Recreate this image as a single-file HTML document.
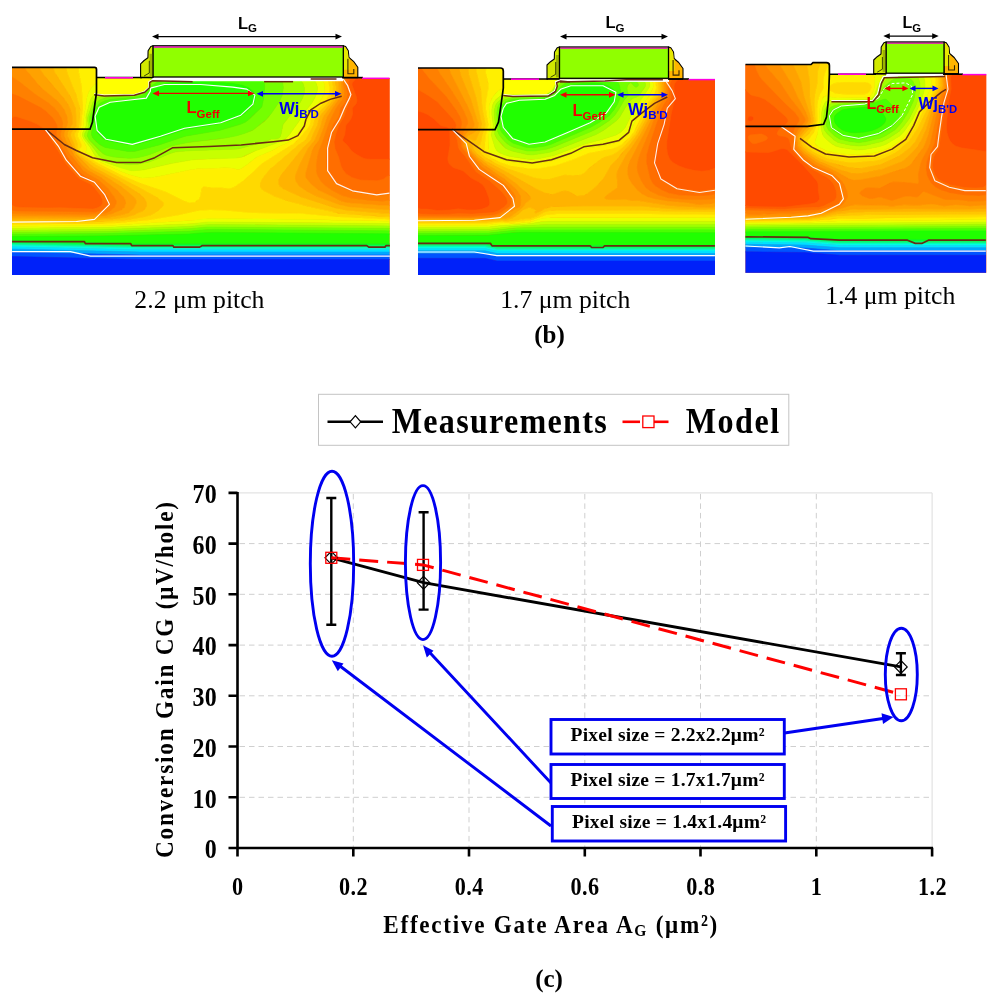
<!DOCTYPE html>
<html><head><meta charset="utf-8"><title>Figure</title>
<style>
html,body{margin:0;padding:0;background:#fff}
svg{display:block}
.sb{font-family:"Liberation Serif",serif;font-weight:bold;fill:#000}
.sr{font-family:"Liberation Serif",serif;fill:#000}
.ab{font-family:"Liberation Sans",sans-serif;font-weight:bold}
</style></head><body>
<svg width="995" height="1000" viewBox="0 0 995 1000">
<rect width="995" height="1000" fill="#fff"/>
<defs><clipPath id="c1"><path d="M12 67H96.5V78H389.5V275H12Z"/></clipPath><clipPath id="c2"><path d="M418 68H503.3V79.5H715V275H418Z"/></clipPath><clipPath id="c3"><path d="M745.5 64.5H812V62.6H829.4V74.5H986.3V272.8H745.5Z"/></clipPath></defs>
<g clip-path="url(#c1)">
<rect x="12" y="67" width="379" height="208" fill="#ff4a00"/>
<path fill="#ff4a00" stroke="#ff4a00" stroke-width="0.6" d="M369 67.7 L369.6 67 L390 67 L390 159.3 L371 159.3 L366 158.9 L363 158 L357 154.8 L352 151.3 L347 144.8 L342.9 141 L342.8 139 L344.7 135 L346 125 L349.6 121 L351.4 118 L352.6 114 L352.3 108 L356 104.1 L357 101 L356.4 97 L352 85 L352.2 83 L356 78.5Z"/>
<path fill="#ff5c00" stroke="#ff5c00" stroke-width="0.6" d="M357 67.8 L357.4 67 L369.6 67 L356 78.5 L352.2 83 L352 85 L356.4 97 L357 101 L356 104.1 L352.3 108 L352.6 114 L351.4 118 L349.6 121 L346 125 L344.7 135 L342.6 140 L343 141.3 L347 144.8 L352 151.3 L357 154.8 L363 158 L366 158.9 L371 159.3 L390 159.3 L390 175.3 L387 176.4 L383 179.4 L380 180.3 L375 180.7 L360 180 L353 178 L348 175.2 L344.5 172 L341.9 168 L340.3 164 L338.6 157 L336 151.6 L334.6 147 L334.2 141 L337.8 128 L344.4 116 L346.4 109 L350.6 99 L350.8 94 L348.3 85 L348.5 82 L351 76.7ZM14 116.6 L17 116.6 L33 122.1 L42 127.1 L46 130.3 L63.3 160 L73.6 173 L79 178.3 L92 185.1 L98.2 192 L101 196.4 L102.5 200 L102.6 203 L101.7 205 L97 208 L94 209 L90 209.2 L60 207.7 L47 208 L19 207.4 L15 206.8 L12 205.1 L12 118.2Z"/>
<path fill="#ff6e00" stroke="#ff6e00" stroke-width="0.6" d="M351 67 L357.4 67 L351 76.7 L348.5 82 L348.3 85 L350.8 94 L350.6 99 L346.4 109 L344.4 116 L338.6 126 L335.9 134 L334.1 142 L335 148.6 L338.6 157 L341 166 L343 170 L346.4 174 L352 177.5 L360.1 180 L377 180.7 L383 179.4 L387 176.4 L390 175.3 L390 193.8 L387 194.7 L380 195.7 L374 195.6 L357.2 193 L349.8 191 L341 187 L335.9 184 L330.8 178 L326.9 171 L326.1 166 L326 153 L327.5 140 L333.2 124 L337.1 119 L338.7 116 L340.3 108 L344 103.9 L346.4 99 L347.2 93 L345.5 85 L345.6 82 L347.5 75ZM13 93.7 L42 108 L47.9 113 L53.6 119 L56.3 123 L57.4 126 L56.5 134 L57.6 139 L68.6 158 L80 172.2 L84 175.3 L96 182.2 L102.5 189 L106.9 195 L108.7 199 L109.3 203 L108.3 206 L106 208.6 L100.5 211 L92 212.4 L19 211.5 L12 210.8 L12 205.1 L15 206.8 L19 207.4 L47 208 L60 207.7 L93 209.1 L97 208 L100.7 206 L102.3 204 L102.8 202 L102.2 199 L100.8 196 L94 187 L90.3 184 L81 179.6 L78 177.6 L66.2 164 L53.3 143 L48 133.2 L45 129.3 L37 124.1 L30 121 L16 116.4 L14 116.6 L12 118.2 L12 93.4Z"/>
<path fill="#ff8000" stroke="#ff8000" stroke-width="0.6" d="M346 67 L350.7 67 L347 76.5 L345.6 82 L345.5 85 L347.2 93 L346.9 97 L344.6 103 L340.3 108 L338.7 116 L337.1 119 L333.2 124 L327.8 139 L326 153 L326.1 166 L326.9 171 L330.1 177 L334.8 183 L338 185.4 L345.2 189 L355 192.6 L374 195.6 L382 195.5 L390 193.8 L390 200.4 L384 201.1 L374 200.8 L353 198.6 L345 196.7 L334 191.5 L325.6 186 L320.6 181 L317 174.8 L316 170 L316.1 165 L317.3 156 L318.9 150 L322.2 142 L329.1 122 L336 108 L341.4 101 L343.8 96 L344.2 92 L343.2 85 L343.1 81 L344.3 73 L345.6 67ZM12.9 77 L20 81.9 L35.1 94 L49 103.2 L54 107.6 L58 112 L61.2 117 L62.9 122 L63 126 L60.8 135 L61.4 138 L63.3 142 L71.5 156 L81.8 169 L86 172.5 L99 180 L107.6 188 L111.8 193 L115.5 199 L116.7 203 L115.5 206 L111.6 210 L105.7 213 L93 214.6 L12 213.9 L12 210.8 L19 211.5 L95 212.2 L101 210.9 L105.5 209 L108.3 206 L109.3 202 L108.7 199 L106.9 195 L99.9 186 L94.4 181 L85 175.9 L80.9 173 L76.3 168 L67.9 157 L57.6 139 L56.5 134 L57.4 127 L57.2 125 L55.1 121 L52 117.1 L45.8 111 L41 107.4 L18 95.8 L12 93.4 L12 76.6Z"/>
<path fill="#ff9000" stroke="#ff9000" stroke-width="0.6" d="M13 67 L24.3 67 L30.1 75 L40 86.4 L54 97.9 L62 106.3 L66 113 L67.8 120 L67.4 125 L64.4 133 L64.5 137 L72.6 153 L76 157.6 L86.2 169 L103.3 179 L113.8 187 L122.1 195 L125 199 L125.9 202 L125.3 206 L122.9 209 L117.2 212 L109 214.9 L98 216.4 L12 216.3 L12 213.9 L88 214.7 L100 214 L106 212.9 L110.2 211 L114.7 207 L116.7 203 L116.4 201 L114.4 197 L108.6 189 L99 180 L86.8 173 L83 170.2 L70.1 154 L63.3 142 L61.1 137 L60.8 134 L62.8 127 L63.1 123 L61.6 118 L58 112 L54 107.6 L48.7 103 L35.1 94 L20 81.9 L12 76.6 L12 67ZM342 67 L345.6 67 L343.1 81 L343.2 85 L344.2 92 L344 95 L342 100 L336 108 L329.1 122 L322.2 142 L318.9 150 L317.3 156 L316.1 165 L316.1 171 L317.1 175 L320.6 181 L325.6 186 L333 191 L343 195.9 L352 198.4 L372 200.7 L383 201.2 L390 200.4 L390 205.6 L384 205.7 L372 204.9 L350 203.2 L343.7 202 L330 196 L318.1 190 L314.1 187 L309 182 L305.6 177 L305.5 174 L306.3 170 L312.3 150 L318.3 141 L323 129 L327 117 L332.6 108 L338.5 100 L341.1 95 L341.6 91 L340.7 82 L340.7 75 L341.2 67Z"/>
<path fill="#ffa200" stroke="#ffa200" stroke-width="0.6" d="M25 67 L39.4 67 L41.2 71 L46.9 79 L65.2 100 L70 108 L72 114.7 L72.7 124 L72 126 L68.6 131 L67.4 135 L68.1 138 L74.5 152 L77 155.6 L89 167.5 L103 175 L116 183 L126.8 191 L134.8 198 L136.5 201 L136.3 204 L133.9 208 L130 212 L128 213.2 L123 214.7 L108 217.5 L100 218.3 L12 218.4 L12 216.3 L89 216.7 L105 215.7 L111.9 214 L121.4 210 L124.7 207 L126 203 L125.4 200 L123.7 197 L117.2 190 L101.9 178 L87 169.6 L83.2 166 L74.7 156 L66.3 141 L64.3 136 L64.4 133 L67.4 125 L67.9 122 L67 116 L64.5 110 L61 105 L56.3 100 L42 88.3 L39 85.3 L27 71 L24.3 67ZM337 67 L341.2 67 L340.6 79 L341.6 91 L341.3 94 L339.1 99 L332.6 108 L327 117 L323 129 L318.3 141 L313.9 147 L312 150.8 L305.8 172 L305.4 176 L306 178 L310.9 184 L318.1 190 L342 201.4 L346 202.6 L351 203.2 L382 205.6 L390 205.6 L390 209.7 L384 209.7 L350 207.2 L342 205.8 L318.5 197 L308 192.2 L299.1 186 L295.6 181 L295.1 178 L295.4 175 L299.4 165 L307.6 149 L314.7 140 L320.6 126 L322.3 119 L323.7 116 L335 101 L338.1 95 L339 90Z"/>
<path fill="#ffb300" stroke="#ffb300" stroke-width="0.6" d="M40 67 L53.1 67 L56.4 75 L69 94.2 L74 103.8 L76.1 110 L76.8 125 L76 127.3 L71.6 132 L70.7 135 L71.5 138 L74.3 144 L75.6 150 L77.1 153 L79 155.1 L92.4 166 L121.3 182 L141 195 L145.4 200 L146.9 204 L145.9 208 L142.9 211 L136.7 214 L129 216.7 L106 219.9 L12 220.4 L12 218.4 L91 218.5 L107 217.7 L123 214.7 L128.5 213 L133.9 208 L136.5 203 L136.5 201 L135 198.2 L128.1 192 L120.3 186 L111.2 180 L103 175 L89.7 168 L75.8 154 L67.5 136 L68.1 132 L72.7 124 L72.1 115 L70.4 109 L67.9 104 L64 98.5 L44.7 76 L40.6 70 L39.4 67ZM333 67 L336.9 67 L339 90 L338.5 94 L335 101 L323.7 116 L322.3 119 L320.6 126 L314.7 140 L307.6 149 L299.4 165 L295.4 175 L295.1 178 L295.6 181 L299.1 186 L307.7 192 L317 196.4 L340 205.1 L349 207.1 L384 209.7 L390 209.7 L390 213.4 L384 213.4 L349 210.8 L339 209.1 L300.8 197 L283.5 189 L280 186.4 L278.5 184 L278.4 180 L281 174.9 L302.7 148 L310.9 140 L312.6 135 L317.5 125 L318.6 119 L319.9 116 L331.6 102 L334 98 L335.8 93 L336.1 88 L335.7 83 L332.6 68 L332.5 67Z"/>
<path fill="#ffc600" stroke="#ffc600" stroke-width="0.6" d="M54 67 L65.9 67 L67.4 73 L74 88.4 L78 100.5 L80.2 110 L79.3 117 L79.2 125 L78.2 128 L74.8 133 L74.2 135 L77.7 144 L77.2 149 L78.1 152 L80 153.9 L97 165.5 L145.7 191 L161 200 L163.1 202 L163.6 203 L163.5 205 L161.2 208 L154.8 213 L149 215.9 L144 217 L127 219.7 L109 221.7 L12 222.4 L12 220.4 L96 220.3 L112 219.3 L127.7 217 L134.1 215 L142.9 211 L145.2 209 L146.7 206 L146.7 203 L145.4 200 L143.1 197 L139.8 194 L119.6 181 L93 166.4 L79 155.1 L77.1 153 L75.6 150 L74.3 144 L71.5 138 L70.7 135 L71.6 132 L76.6 126 L75.9 109 L73.6 103 L70 95.8 L55.3 73 L53.1 67ZM328 67 L332.5 67 L336.1 87 L336 92 L334.4 97 L332 101.5 L319.9 116 L318.6 119 L317.5 125 L312.6 135 L310.9 140 L302.7 148 L281 174.9 L278.4 180 L278.5 184 L280 186.4 L283.5 189 L300.8 197 L336 208.3 L347 210.6 L384 213.4 L390 213.4 L390 216.7 L346 214.1 L331.4 212 L300 204.4 L280 198.5 L272 195.4 L265.5 192 L262 189.4 L260.3 187 L260 184 L261.6 180 L265.1 175 L270.4 169 L299 144.5 L305.6 140 L313.4 125 L314.6 119 L315.9 116 L328 102.7 L330.7 99 L332.9 92 L333 86 L332 81 L327.9 68Z"/>
<path fill="#ffd900" stroke="#ffd900" stroke-width="0.6" d="M66 67 L79 67 L78.9 72 L81.7 86 L83 108 L81.8 117 L81.4 125 L77.7 134 L78.1 137 L81.7 145 L81.3 147 L79.3 149 L79 150 L80 151.7 L87 155.7 L98 163.2 L121 175 L140 182.9 L165 191.5 L185 201.5 L191 202.8 L196 201.5 L199 199.1 L200.3 196 L201.4 189 L202.7 187 L204 186.4 L213 187.7 L220 187.5 L228 188.5 L231 188.3 L235 186.6 L244 180.2 L262.8 163 L291 145.6 L296 141.7 L301.3 136 L309.3 126 L310.1 124 L311.1 118 L312.6 115 L319.6 108 L326 100 L327.8 97 L329.4 91 L329.2 85 L327.7 80 L322 67 L327.6 67 L332 81 L333 86 L332.9 92 L330.7 99 L328 102.7 L315.9 116 L314.6 119 L313.4 125 L305.6 140 L299 144.5 L270.4 169 L265.1 175 L261.6 180 L260 184 L260.3 187 L261.6 189 L264 191 L274 196.2 L286 200.5 L305 205.7 L339 213.4 L381 216.5 L390 216.7 L390 219.2 L339 217.1 L296 213.4 L251 213 L223 210.3 L211 210 L199 210.6 L178.9 215 L149.5 220 L110 223.5 L12 224.3 L12 222.4 L102 222 L126 219.9 L144 217 L150 215.5 L154.8 213 L158.9 210 L162.2 207 L163.5 205 L163.6 203 L163.1 202 L157.9 198 L143.8 190 L97 165.5 L80 153.9 L78.1 152 L77.2 149 L77.7 144 L74.2 135 L74.8 133 L78 128.4 L79 126 L80.2 109 L76 94 L67.4 73Z"/>
<path fill="#fff000" stroke="#fff000" stroke-width="0.6" d="M79 67.3 L139.6 67 L142.5 79 L140.7 83 L138 85.2 L133 86 L115.9 84 L101 80.4 L98 81.6 L92 86.9 L89 91.6 L87.1 97 L84 117 L83.7 125 L80.4 133 L80.2 135 L81.3 138 L85.1 144 L86.4 147 L86.7 149 L85.6 152 L91 156.4 L103 163.6 L121 171.6 L129 174.4 L142 177.9 L149 177.8 L158 176.6 L189.1 170 L197 168.8 L225 167.8 L232 168 L238 169.4 L241 168.7 L248 164.1 L257 156.8 L272 150.4 L280 145.9 L286 143.5 L292 140.2 L305 124.4 L308.4 115 L311 111.5 L317 105.7 L322.6 97 L324.6 92 L324.8 87 L324 83.2 L314.8 67 L322 67 L328.7 83 L329.4 87 L329.4 91 L328.2 96 L326 100 L319.6 108 L314.2 113 L312 116 L310.8 119 L310.1 124 L309 126.4 L300.5 137 L294 143.5 L262.8 163 L244 180.2 L235 186.6 L231 188.3 L228 188.5 L220 187.5 L213 187.7 L204 186.4 L202.7 187 L201.4 189 L200.3 196 L199 199.1 L195 202 L190 202.7 L184 201 L165 191.5 L140 182.9 L121 175 L98 163.2 L79.4 151 L79.3 149 L81.3 147 L81.7 145 L78.1 137 L77.7 134 L81.4 125 L81.8 117 L83 108 L81.7 86 L78.9 72ZM210 210 L223 210.3 L252 213 L299 213.6 L339 217.1 L390 219.2 L390 221.3 L309 219.5 L210 218.5 L192 220.6 L109 225.4 L12 226.2 L12 224.3 L102 223.8 L116.8 223 L149.5 220 L178.9 215 L199 210.6Z"/>
<path fill="#ecff00" stroke="#ecff00" stroke-width="0.6" d="M140 67 L150.5 67 L148 80 L146 84 L141 89 L138 90.4 L134 90.8 L111 91.3 L101 92.1 L96 93.6 L93 95.9 L90.9 99 L89.4 103 L85.9 117 L86.2 126 L83 132 L82.2 135 L83.2 138 L90 147 L94.6 155 L98 158.3 L102.2 161 L109 163.8 L131 170.6 L143 170 L171 163.6 L192 159.8 L240 157.6 L244 156.4 L256 150.6 L282 141.1 L285.3 139 L289.1 135 L299 121.2 L303.8 113 L311.9 103 L314.8 98 L316.8 93 L317.5 88 L316.6 84 L313.6 79 L304.9 67 L314.8 67 L323.9 83 L324.7 86 L324.8 91 L323 96.2 L317 105.7 L311 111.5 L308.4 115 L305.3 124 L292.2 140 L287 143 L280 145.9 L272 150.4 L256.7 157 L248 164.1 L241 168.7 L238 169.4 L232 168 L225 167.8 L197 168.8 L189.1 170 L158 176.6 L149 177.8 L142 177.9 L129 174.4 L121 171.6 L103 163.6 L91 156.4 L85.6 152 L86.7 149 L86.4 147 L85.1 144 L81.3 138 L80.2 135 L80.4 133 L83.7 125 L84 117 L87.1 97 L89 91.6 L92 86.9 L98 81.6 L101 80.4 L115.9 84 L133 86 L138 85.2 L140.7 83 L142.5 79 L140 69 L139.6 67ZM203 219 L211 218.4 L302 219.4 L390 221.3 L390 223.6 L210 221.9 L192 223.8 L109 227.3 L12 228.3 L12 226.2 L109 225.4 L192 220.6Z"/>
<path fill="#c7ff00" stroke="#c7ff00" stroke-width="0.6" d="M151 67 L158.1 67 L149.1 83 L145 88.3 L142 91 L139 92.4 L135.8 93 L112 94.2 L103 95.4 L96.7 98 L94.5 100 L92.6 103 L87.8 117 L87.7 121 L88.9 126 L84.9 133 L84.3 136 L86 139 L94.3 149 L98.5 155 L103 158.8 L109 161 L121 163.8 L130 164.7 L138 164.2 L148.8 162 L157.2 159 L170 153.4 L176 151.8 L189 150.7 L238 149 L266 141.5 L271 138.9 L275 138.9 L279 138 L280 137 L281 134.4 L283 124.5 L299.8 103 L302.6 98 L304.2 93 L304.4 88 L303.3 84 L290.9 67 L304.9 67 L316.1 83 L317.4 87 L317.3 91 L315.7 96 L311.9 103 L303.8 113 L299 121.2 L289.1 135 L285.3 139 L282 141.1 L255 151 L242 157.1 L236 158.1 L200 159.2 L191 160 L171 163.6 L144 169.8 L134 170.7 L130 170.5 L121 167.9 L102 160.9 L97.6 158 L94.6 155 L90 147 L84 139.3 L82.4 136 L82.6 133 L86.2 126 L86.1 116 L89.4 103 L91 98.8 L93 95.9 L95 94.1 L100 92.3 L111 91.3 L134 90.8 L140 89.6 L143 87.5 L147.1 82 L148.7 78 L150.5 67ZM208 221.9 L390 223.6 L390 226 L210 224.5 L190 226.4 L107 229.4 L12 230.3 L12 228.3 L109 227.3 L192 223.8Z"/>
<path fill="#9fff00" stroke="#9fff00" stroke-width="0.6" d="M158 67.1 L168 67 L158 76.3 L149 85.8 L145 91 L142 93.3 L136 95 L114 96.5 L106 97.6 L99 100.4 L95 104.4 L89.9 116 L89.5 121 L90.8 126 L87.8 133 L87.3 136 L89 139.5 L93 144 L99 150.2 L104 154.2 L109 156.1 L118 157.6 L130 158.3 L137 157.7 L150 154.4 L172 145.7 L188 142.4 L219 138.9 L229 137.3 L240 134.8 L252 130.7 L264 121.7 L269 116.5 L279.1 102 L282 96 L283.3 88 L282.3 80 L279.3 74 L273.1 67 L290.9 67 L303.3 84 L304.4 88 L304.2 93 L302.6 98 L299.8 103 L283 124.5 L281 134.4 L280 137 L279 138 L275 138.9 L271 138.9 L266 141.5 L238 149 L189 150.7 L176 151.8 L170 153.4 L157.2 159 L148.8 162 L138 164.2 L130 164.7 L121 163.8 L109 161 L103 158.8 L98.5 155 L94.3 149 L86 139 L84.3 136 L84.9 133 L88.9 126 L87.7 121 L87.8 117 L93.1 102 L97 97.8 L103 95.4 L112 94.2 L135 93.1 L141 91.6 L144 89.4 L148.4 84ZM203 224.9 L211 224.5 L387 225.9 L390 226 L390 228.4 L209 226.9 L189 228.8 L108 231.4 L12 232.2 L12 230.3 L14 230.2 L106 229.4 L190 226.4Z"/>
<path fill="#75ff00" stroke="#75ff00" stroke-width="0.6" d="M168 67 L197.6 67 L178 72.1 L164 77.8 L151 86.2 L146 93 L142 95.8 L135 97.3 L111 99.3 L105 100.8 L100 103.3 L96 107.6 L92 116 L91.7 118 L91.7 121 L92.8 126 L91.6 131 L91.5 135 L92.8 138 L96 141.5 L101 145.5 L106 147.6 L127 151.3 L134 151.4 L159 144.9 L185 136.2 L221 130 L239 124.8 L245 122.3 L250 118.5 L261.8 107 L264.1 96 L264.7 85 L264 83 L261.6 80 L254 74.1 L247 70.5 L236.3 67 L273.1 67 L279.3 74 L282.3 80 L283.3 87 L282.3 95 L279 102.1 L271.7 113 L266 119.8 L253.1 130 L245 133.3 L236 135.9 L225 138.1 L189 142.3 L172 145.7 L150 154.4 L143 156.5 L136 157.9 L128 158.2 L114 157.1 L106 155.2 L102 152.8 L89.4 140 L87.3 136 L87.8 133 L90.8 126 L89.5 121 L89.9 116 L94 106.1 L96 103 L100 99.8 L107 97.4 L114 96.5 L135 95.1 L139 94.5 L142 93.3 L145 91 L149 85.8 L158 76.3ZM207 227 L386 228.3 L390 228.4 L390 230.9 L208 229.5 L189 231.3 L109 233.5 L12 234.3 L12 232.2 L14 232.2 L108 231.4 L189 228.8Z"/>
<path fill="#4aff00" stroke="#4aff00" stroke-width="0.6" d="M194 67.9 L197.6 67 L236.3 67 L246 70.1 L253 73.5 L261.6 80 L264 83 L264.7 85 L264.1 96 L261.8 107 L248 120.2 L245 122.3 L241 124.1 L220 130.3 L185 136.2 L159 144.9 L135 151.3 L128 151.4 L105 147.4 L99 144.1 L92.8 138 L91.4 134 L92.8 126 L91.7 121 L91.8 117 L96 107.6 L100 103.3 L105 100.8 L111 99.3 L135 97.3 L142 95.8 L146 93 L151 86.2 L163 78.4 L177 72.4ZM183.5 82 L167 83.1 L157 86.1 L152 88.7 L147.2 96 L145 97.6 L142 98.8 L135 99.9 L113 102 L108 103.2 L103 105.3 L98.6 109 L95 117 L95 121 L96.4 130 L97.6 133 L103 138.5 L108 140.8 L129 144.8 L136 144.4 L159.1 138 L184 129.7 L218.5 124 L234.3 119 L241 116.1 L245 113.2 L252.4 106 L254.9 101 L255.4 96 L253.6 92 L249 88 L243 85.5 L233 83.5 L203 81.3ZM201 230 L214 229.4 L384 230.7 L390 230.9 L390 234 L209 232.4 L189 234 L110 235.8 L12 236.5 L12 234.3 L14 234.2 L103 233.6 L189 231.3Z"/>
<path fill="#20ff00" stroke="#20ff00" stroke-width="0.6" d="M184 82 L203 81.3 L233 83.5 L243 85.5 L249 88 L253.6 92 L255.4 96 L254.9 101 L252.4 106 L245 113.2 L241 116.1 L234.3 119 L218.5 124 L184 129.7 L159.1 138 L136 144.4 L129 144.8 L108 140.8 L103 138.5 L97.6 133 L96.4 130 L95 121 L95 117 L98.6 109 L103 105.3 L108 103.2 L113 102 L135 99.9 L142 98.8 L145 97.6 L147.2 96 L152 88.7 L157 86.1 L167 83.1ZM201 232.9 L214 232.4 L387 233.8 L390 234 L390 243.8 L140 243.8 L12 240.8 L12 236.5 L103 235.9 L189 234Z"/>
<path fill="#08ff23" stroke="#08ff23" stroke-width="0.6" d="M13 240.8 L140 243.8 L390 243.8 L390 245.4 L140 245.4 L12 242.4 L12 240.8Z"/>
<path fill="#02ff69" stroke="#02ff69" stroke-width="0.6" d="M13 242.5 L140 245.4 L390 245.4 L390 247 L140 247 L12 244 L12 242.4Z"/>
<path fill="#00ffa9" stroke="#00ffa9" stroke-width="0.6" d="M13 244 L140 247 L390 247 L390 248.2 L140 248.2 L12 245.2 L12 244Z"/>
<path fill="#00ffe2" stroke="#00ffe2" stroke-width="0.6" d="M13 245.3 L140 248.2 L390 248.2 L390 249.7 L140 249.7 L12 246.7 L12 245.2Z"/>
<path fill="#00e2ff" stroke="#00e2ff" stroke-width="0.6" d="M13 246.7 L140 249.7 L390 249.7 L390 252 L140 252 L12 249 L12 246.7Z"/>
<path fill="#00a7ff" stroke="#00a7ff" stroke-width="0.6" d="M13 249 L140 252 L390 252 L390 255 L140 255 L12 252 L12 249Z"/>
<path fill="#0054ff" stroke="#0054ff" stroke-width="0.6" d="M13 252 L140 255 L390 255 L390 259.5 L140 259.5 L12 256.5 L12 252Z"/>
<path fill="#0021f9" stroke="#0021f9" stroke-width="0.6" d="M13 256.5 L140 259.5 L390 259.5 L390 275 L12 275 L12 256.5Z"/>
</g>
<path d="M97 78.5H150V81L147.5 88L141 93.5L129 95.5H97Z" fill="#ffff00"/>
<rect x="152" y="78" width="191" height="3.2" fill="#fff"/>
<path d="M150.4 88.1 L164.4 84.5 L200.6 84.5 L232.8 87.1 L246.8 89.1 L254.9 95.1 L252.9 104.2 L240.8 115.2 L220.7 122.7 L184.5 128.3 L160.4 136.3 L132.3 144.4 L106.1 139.3 L97.1 130.3 L95.1 116.2 L99.1 107.2 L110.2 102.2 L132.3 99.7 L146.3 98.1 L150.4 91.1Z" fill="none" stroke="#fff" stroke-width="1.1" stroke-linejoin="round" />
<path d="M94.1 93.9 L104.1 95.1 L134.3 94.5 L144.3 91.5 L148.9 87.1 L148.9 81.7 L152.4 79.6" fill="none" stroke="#fff" stroke-width="1.2" stroke-linejoin="round" />
<path d="M94.1 94.7 L104.1 95.9 L134.3 95.3 L144.7 92.3 L149.7 87.5 L149.7 82.5 L152.8 80.7 L164.4 81.1 L192.6 81.7" fill="none" stroke="#6a2c12" stroke-width="1.5" stroke-linejoin="round" />
<path d="M264.1 81.7 L293.1 81.7" fill="none" stroke="#6a2c12" stroke-width="1.5" stroke-linejoin="round" />
<path d="M310.7 79 L336.5 79" fill="none" stroke="#6a2c12" stroke-width="1.5" stroke-linejoin="round" />
<path d="M46.2 129.6 L64.3 144.5 L76.4 150.5 L92.5 157.7 L116.6 162.6 L140.7 162.6 L154.8 157.7 L172.9 147.7 L209 146.5 L241.2 144.9 L273.4 141.7 L288.2 140.1 L297.9 135.6 L304.3 126 L305.9 119.5 L310.8 109.9 L320.4 103.5 L330.1 99.4 L341.7 96.2" fill="none" stroke="#6a2c12" stroke-width="1.5" stroke-linejoin="round" />
<path d="M45.2 129.4 L58.3 146.1 L66.3 160.2 L80.4 176.2 L94.5 182.3 L104.5 194.3 L109.5 204.4 L94.5 219.4 L76.4 221.5 L12.1 222.1" fill="none" stroke="#fff" stroke-width="1.1" stroke-linejoin="round" />
<path d="M342.9 78.5 L347.7 85.7 L350.9 94.5 L349.3 98.6 L344.5 108 L339.7 119.3 L331.6 132.2 L327.6 148.2 L327.6 170.7 L336.5 183.6 L352.5 190.8 L376.7 194.9 L389.5 193.2" fill="none" stroke="#fff4ec" stroke-width="1.2" stroke-linejoin="round" />
<path d="M12.1 241.6 L84.4 241.6 L85.4 243.6 L130.7 243.6 L131.7 245.6 L172.9 245.6 L173.9 247.2 L200 247.2" fill="none" stroke="#6a2c12" stroke-width="1.7" stroke-linejoin="round" />
<path d="M200 247.2 L202 245.6 L366.8 245.6 L368.8 247.2 L384.9 247.2 L385.9 245.6 L389.9 245.6" fill="none" stroke="#6a2c12" stroke-width="1.7" stroke-linejoin="round" />
<path d="M12.1 251.6 L70.4 251.6 L90.5 256.2 L200 256.2" fill="none" stroke="#fff" stroke-width="1.2" stroke-linejoin="round" />
<path d="M200 256.2 L389.9 256.2" fill="none" stroke="#fff" stroke-width="1.2" stroke-linejoin="round" />
<path d="M12 67.3H94.5Q96.5 67.3 96.5 69.5V93L95 103L92.5 122L90 129.2H12" fill="none" stroke="#000" stroke-width="1.7"/>
<path d="M96.5 77.6H142" stroke="#000" stroke-width="1.5" fill="none"/>
<path d="M105 77.8H133" stroke="#ff00e0" stroke-width="1.6" fill="none"/>
<path d="M342 77.6H363" stroke="#000" stroke-width="1.6" fill="none"/>
<path d="M362 78.3H389.5" stroke="#ff00e0" stroke-width="1.5" fill="none"/>
<path d="M153.1 45.8 l-2.3 0.7 l-2.7 4.3 l-0.2 7 l-3.8 2.7 l-3.5 3.3 V77.5 H153.1 Z" fill="#d2ea00" stroke="#000" stroke-width="1.1" stroke-linejoin="round"/>
<path d="M149.5 53.8 V76.0 H152.6 V53.8 Z" fill="#9cb400" stroke="none"/>
<path d="M149.3 60.8 V73.0 L144.1 76.0" fill="none" stroke="#3c4800" stroke-width="1"/>
<path d="M343.3 45.8 l2.3 0.7 l2.7 4.3 l0.6 6.5 l4.6 4 l4.3 6 V77.5 H343.3 Z" fill="#ffb400" stroke="#000" stroke-width="1.1" stroke-linejoin="round"/>
<path d="M343.9 46.8 l1.8 0.9 l2.2 3.8 l0.5 6 l1 1 V69.8 H343.9 Z" fill="#e6e800" stroke="none"/>
<path d="M347.9 58.8 V73.8 H353.8 V69.0" fill="none" stroke="#3a2800" stroke-width="1.1"/>
<path d="M140.1 77.6 H153.1 M343.3 77.6 H357.8" stroke="#000" stroke-width="1.5"/>
<rect x="153.1" y="45.8" width="190.2" height="31.2" fill="#90ff00" stroke="#000" stroke-width="1.3"/>
<path d="M153.9 47.0 H342.5" stroke="#e800d0" stroke-width="1.3"/>
<path d="M157.5 36.6 H336.5" stroke="#000" stroke-width="1.4"/><path d="M152.0 36.6 l6.5 -2.9 v5.8 Z M342.0 36.6 l-6.5 -2.9 v5.8 Z" fill="#000"/>
<path d="M158.0 93.4 H249.0" stroke="#f00000" stroke-width="1.4"/><path d="M152.5 93.4 l6.5 -2.9 v5.8 Z M254.5 93.4 l-6.5 -2.9 v5.8 Z" fill="#f00000"/>
<path d="M262.0 93.8 H336.0" stroke="#0000f0" stroke-width="1.4"/><path d="M256.5 93.8 l6.5 -2.9 v5.8 Z M341.5 93.8 l-6.5 -2.9 v5.8 Z" fill="#0000f0"/>
<text x="238.0" y="28.7" class="ab" font-size="16.5" fill="#000">L<tspan font-size="11.5" dy="3.6">G</tspan></text>
<text x="186.5" y="113.2" class="ab" font-size="16.5" fill="#f00000">L<tspan font-size="11.5" dy="4.3">Geff</tspan></text>
<text x="279.2" y="113.6" class="ab" font-size="16.5" fill="#0000f0">Wj<tspan font-size="11.5" dy="4.3">B'D</tspan></text>
<g clip-path="url(#c2)">
<rect x="418" y="68" width="298" height="207" fill="#ff4a00"/>
<path fill="#ff4a00" stroke="#ff4a00" stroke-width="0.6" d="M699 68.4 L715 68 L715 168.1 L709 170.4 L703 171.2 L696 170.8 L687.6 169 L680 166.3 L674 163.3 L671 160.8 L669 157.9 L667.6 154 L666.7 148 L666.9 142 L668.1 133 L671.4 113 L674.6 99 L674.7 94 L674 87 L674.4 84 L676.4 81 L680 78.3ZM419 111.3 L425 113.3 L430 116 L435 119.8 L441.5 126 L447 127 L449.7 129 L450 145 L447.8 158 L448.7 163 L452 166.8 L463 170.8 L471.1 178 L478.9 182 L482.7 185 L485.4 189 L489.3 199 L489.7 204 L488 206.5 L482 209.1 L473.2 210 L467 209.9 L458 208.8 L449 210.1 L436 210.3 L427 209.1 L421 209.1 L418 208.2 L418 111.1Z"/>
<path fill="#ff5c00" stroke="#ff5c00" stroke-width="0.6" d="M682 68 L699.5 68 L680 78.3 L676.4 81 L674.4 84 L674 87 L674.8 95 L674.5 100 L671.2 114 L666.9 141 L666.7 148 L667.6 154 L669.6 159 L673 162.6 L679 165.9 L686 168.5 L695 170.6 L702 171.2 L709 170.4 L715 168.1 L715 188.3 L711 189.7 L697 191 L680 188.5 L675.1 187 L664 181.5 L660.4 179 L657.9 175 L654.3 165 L653.9 158 L656.3 144 L661.8 126 L665.6 110 L671 98 L671.1 94 L669.9 86 L670.2 83 L674 76.9ZM419 89.8 L431 97.2 L438 102.4 L453.8 120 L456.4 125 L454.8 133 L457.3 140 L458.3 147 L459.6 150 L465 156.1 L476.2 172 L491.1 182 L501 190.9 L505 195.5 L507.1 199 L507.5 202 L507 204 L504.1 207 L498 211 L495.6 212 L480 213.8 L467 214.1 L458 213.6 L450 214.2 L435 214.4 L421 214.1 L418 213.5 L418 208.2 L421 209.1 L427 209.1 L437 210.4 L449 210.1 L458 208.8 L467 209.9 L476 209.9 L482 209.1 L487.3 207 L489.4 205 L489.8 203 L489 198 L486 190.3 L484.3 187 L482 184.3 L478.9 182 L471.1 178 L463 170.8 L453 167.4 L449.3 164 L448 161 L447.8 158 L450 145 L449.7 129 L447 127 L441 125.7 L434 118.9 L428 114.8 L423 112.5 L418 111.1 L418 89.4Z"/>
<path fill="#ff6e00" stroke="#ff6e00" stroke-width="0.6" d="M419 68 L420.8 68 L429.8 79 L445 94.8 L459.7 116 L461.4 120 L462.1 123 L461.9 126 L459.8 134 L461.1 141 L461.4 146 L462.4 148 L467 153 L479 168.1 L483 171.5 L502 184.8 L506.1 189 L510.4 195 L511.3 197 L511.6 200 L511.2 204 L510.2 206 L508 208 L499 213.5 L492 215.4 L480.6 216 L418 216.2 L418 213.5 L421 214.1 L435 214.4 L450 214.2 L458 213.6 L472 214.1 L493 212.6 L498 211 L504.1 207 L507 204 L507.5 202 L506.6 198 L502 192 L489.9 181 L476.2 172 L465 156.1 L459.6 150 L458.3 147 L457.3 140 L454.8 133 L456.4 125 L455.1 122 L453 118.9 L437.5 102 L429 95.9 L418 89.4 L418 68ZM675 68 L681.8 68 L673 78.1 L670.2 83 L669.9 86 L671.1 94 L671 98 L665.6 110 L661.8 126 L656.1 145 L653.7 160 L654 163.7 L655 167.5 L658 175.3 L661 179.6 L664 181.5 L675.1 187 L680 188.5 L698 191.1 L710 190 L715 188.3 L715 194.5 L707 195.7 L697 196.1 L680 195.2 L671 193.8 L663.5 191 L656.7 187 L652.5 183 L649.9 178 L646.2 162 L646.1 158 L647 153 L660.9 110 L663.3 105 L668.4 97 L668.8 94 L667.6 86 L667.8 82 L670 76.7Z"/>
<path fill="#ff8000" stroke="#ff8000" stroke-width="0.6" d="M421 68 L436.9 68 L440.9 75 L454 94.2 L464 111.1 L466.7 117 L467.9 121 L467.7 125 L464 131.5 L462.7 135 L462.5 138 L463.3 146 L482 166.9 L503.8 182 L508.1 186 L512.2 191 L514.8 195 L515.5 198 L513.4 206 L510.5 209 L499 215.5 L491 217.2 L418 217.8 L418 216.2 L473 216.2 L489 215.6 L494 215 L499 213.5 L509.3 207 L511.2 204 L511.6 200 L511.3 197 L510.4 195 L504.3 187 L498.5 182 L479.9 169 L462.4 148 L461.4 146 L461.1 141 L459.8 135 L460 132 L462.1 124 L461.7 121 L460 116.6 L456 110.1 L446 96 L429.8 79ZM670 68 L674.7 68 L670 76.7 L667.8 82 L667.6 86 L668.8 94 L668.4 97 L663.3 105 L660.9 110 L649 146 L646.5 155 L646.2 162 L649.9 178 L652.5 183 L656 186.5 L662 190.2 L669 193.2 L679 195.2 L697 196.1 L707 195.7 L715 194.5 L715 198.7 L711 199.5 L704 199.9 L683 199.6 L670 198.3 L664.4 197 L656 194 L647.1 189 L641.2 181 L638.2 174 L637 170 L636.9 166 L638 160 L640.2 153 L650.3 129 L658 108.2 L661 102.7 L666.4 96 L666.7 93 L665.8 85 L666 81Z"/>
<path fill="#ff9000" stroke="#ff9000" stroke-width="0.6" d="M437 68 L448.8 68 L451.7 75 L466 102.3 L473.4 120 L474.6 124 L474 127 L467 132.8 L464.5 137 L464.2 140 L465.1 146 L476 157.8 L483 164.2 L487 167.4 L500 175.6 L507.4 181 L514.8 188 L519.6 194 L521 198 L521 205.1 L519 207.6 L515 208.9 L512 211.6 L509 211.8 L506 214.3 L502.9 215 L499 217.3 L491 218.6 L418 219 L418 217.8 L471 217.7 L493 216.9 L499 215.5 L511.8 208 L513.8 205 L515.5 198 L515.2 196 L513.7 193 L507.1 185 L501 179.9 L482.1 167 L463.9 147 L463.2 145 L462.5 136 L463.7 132 L467.9 124 L467.9 121 L467 118 L464 111.1 L459 102.3 L452 91.1 L440.3 74ZM666 68 L669.9 68 L667 76.7 L665.8 82 L666.6 95 L665.8 97 L660.8 103 L658 108.2 L650.3 129 L640.2 153 L638 160 L636.9 166 L637 170 L638.2 174 L641.2 181 L646.1 188 L650 191 L658 194.9 L668 198 L683 199.6 L704 199.9 L711 199.5 L715 198.7 L715 202.9 L713 203.6 L705 204.4 L701 204 L697 204.4 L687 202.8 L668 201.3 L655 199.1 L650 197.6 L643.6 195 L638.4 191 L632 183.9 L628.2 177 L627.4 173 L627.5 169 L630.8 159 L651 119.8 L654.3 110 L656.2 106 L659.3 101 L664.5 95 L664 81Z"/>
<path fill="#ffa200" stroke="#ffa200" stroke-width="0.6" d="M449 68 L458.8 68 L461.2 76 L471 99.4 L478 121 L478.3 126 L476.5 130 L474 132.6 L468 135.8 L466 138.2 L466 142 L468.5 147 L471 149.1 L472.8 152 L476 155.5 L480 158.9 L488 165 L502 173.2 L511.7 180 L523.6 190 L531 198 L531.2 199 L530.4 200 L526 202.9 L523 207 L520 209.8 L511 216.3 L507 218.2 L486 220 L418 220 L418 219 L492 218.5 L499 217.3 L502.9 215 L506 214.3 L509 211.8 L512 211.6 L515 208.9 L519 207.6 L521 205 L521.1 199 L520.6 196 L518.3 192 L514.8 188 L504.9 179 L484 165.1 L476 157.8 L465.1 146 L464.2 139 L465 135.6 L467 132.8 L474 127 L474.6 124 L472 116.3 L467 104.4 L451.2 74ZM663 68 L666 68 L664 81 L664.5 95 L659.3 101 L656.2 106 L654.3 110 L651 119.8 L630.3 160 L628.2 166 L627.4 170 L627.5 174 L628.6 178 L632.1 184 L637.4 190 L642 194 L648 197 L655 199.1 L668 201.3 L687 202.8 L697 204.4 L711 204 L715 202.9 L715 206.9 L711 207.4 L697 207.3 L669 205.7 L638 200.7 L631 200.8 L626 199.5 L609 199.9 L605.6 199 L604.6 198 L604.8 197 L606.8 195 L616.9 188 L617.4 185 L616.6 175 L617 172 L618.3 169 L626 155 L631 148.4 L640.5 134 L650 116.6 L651.8 110 L654.8 104 L657.6 100 L662.3 95 L662.8 92 L662 76 L662.4 68Z"/>
<path fill="#ffb300" stroke="#ffb300" stroke-width="0.6" d="M459 68 L467.8 68 L469.1 75 L475.7 95 L481.6 121 L482 125 L481.4 128 L476 140 L475 140.8 L474 140.7 L469 138.8 L467.8 140 L470.5 141 L471.2 144 L472.6 146 L474.2 150 L477.3 154 L481 157.3 L489 162.7 L506.7 172 L533 187.2 L542.9 192 L548 193.8 L551 194.2 L561 191.3 L566 190.7 L569 191.4 L574.8 195 L578 196 L583 195.8 L585 195.2 L588.3 193 L599 183.8 L604 177.5 L611 165 L617 159.5 L637.2 135 L646.7 118 L650 109 L652.5 104 L654.4 101 L659.3 96 L660.5 94 L660.6 86 L659 68 L662.4 68 L662 79 L662.8 92 L662.3 95 L657.6 100 L654.8 104 L651.8 110 L650 116.6 L640.5 134 L631 148.4 L626 155 L618.3 169 L617 172 L616.6 175 L617.4 185 L616.9 188 L606.8 195 L604.8 197 L604.6 198 L605.6 199 L609 199.9 L626 199.5 L631 200.8 L638 200.7 L669 205.7 L697 207.3 L711 207.4 L715 206.9 L715 209.4 L704 209.7 L669 208.9 L640 206.3 L555 206.5 L548 207.6 L536 213.2 L534.6 213 L534.7 212 L535.8 211 L535.7 210 L531 207.9 L528 208 L523.2 210 L518 214.6 L512 218.4 L506 220.2 L496 220.1 L486 221.1 L418 221.1 L418 220 L486 220 L492 219.6 L496 218.8 L506 218.5 L510 216.9 L520 209.8 L523 207 L526 202.9 L531.2 199 L530.4 197 L526.8 193 L514.2 182 L503.2 174 L488 165 L477 156.4 L472.8 152 L471 149.1 L469 147.8 L467 144.5 L465.8 141 L466.1 138 L468 135.8 L473 133.3 L476 130.7 L478.1 127 L478.4 123 L471 99.4 L461.2 76Z"/>
<path fill="#ffc600" stroke="#ffc600" stroke-width="0.6" d="M468 68 L476.4 68 L476.7 73 L480.2 86 L481.3 92 L482.4 109 L485.6 125 L482 136 L480.9 143 L480 144.4 L477.3 146 L479 150.5 L482.6 155 L486.2 158 L491.1 161 L500 165.2 L510 169.4 L525 174.6 L535 177.6 L543 179.3 L549 179.2 L565 174.7 L574 175.5 L579 175.1 L582 174.2 L601 159 L605 156.9 L614 154 L626 144.6 L636 133 L643 119.7 L650.6 103 L652.6 100 L658 94 L658.5 85 L655.4 68 L659 68 L660.6 86 L660.7 93 L660 95.1 L655.2 100 L652.5 104 L650 109 L646.7 118 L637 135.2 L628 146.6 L621.9 153 L617 159.5 L611 165 L603.7 178 L597.7 185 L588.3 193 L584 195.6 L577 195.9 L569 191.4 L566 190.7 L562 191.1 L553 193.9 L550 194.1 L544 192.4 L535 188.2 L508.5 173 L486 160.9 L477.3 154 L474.2 150 L472.6 146 L471.2 144 L470.5 141 L468 140.4 L468 139.4 L469 138.8 L474 140.7 L475 140.8 L476 140 L481 129 L482 124 L475.9 96 L469.1 75ZM551 206.9 L583 206.3 L641 206.3 L669 208.9 L704 209.7 L715 209.4 L715 211.8 L669 211.5 L643 210.3 L553 210.5 L546 211.7 L536 216.4 L530 218.4 L526 218.4 L523 219.3 L521 219.1 L518 220.1 L506 221.6 L502 221 L486 222.3 L418 222.3 L418 221.1 L486 221.1 L496 220.1 L506 220.2 L512 218.4 L518 214.6 L523.2 210 L528 208 L531 207.9 L535.7 210 L535.8 211 L534.7 212 L534.6 213 L536 213.2 L541 211.1 L545 208.7Z"/>
<path fill="#ffd900" stroke="#ffd900" stroke-width="0.6" d="M477 68 L486.2 68 L485.9 73 L488.4 85 L488.4 90 L485.9 107 L486.2 113 L488.5 126 L485.5 136 L484.3 150 L484.9 152 L493 158.9 L501.5 163 L511 165.9 L527 168.5 L537 168.6 L554 165.6 L573 159.6 L589 153 L610 149.2 L621 144.8 L626 140.9 L633.2 133 L636 128.2 L648.4 102 L651 98.2 L654.9 94 L656.2 85 L651.6 68 L655.4 68 L658.5 85 L658.3 93 L657.5 95 L652.6 100 L650.6 103 L642.9 120 L635.3 134 L625.6 145 L617 152 L613 154.6 L605 156.9 L601 159 L590 167.5 L584 173 L581 174.7 L573 175.5 L565 174.7 L549 179.2 L543 179.3 L534 177.4 L522 173.6 L508 168.7 L496 163.4 L486 157.8 L482.6 155 L478.7 150 L477.3 146 L480 144.4 L480.9 143 L482 136 L485.6 125 L482.4 109 L481 89.7 L476.5 72 L476.4 68ZM549 211 L558 210.4 L642 210.3 L669 211.5 L715 211.8 L715 214.7 L648 214 L553 214.2 L545 215.2 L529 220.7 L511 222.6 L506 222.8 L502 222.3 L486 223.7 L418 223.7 L418 222.3 L486 222.3 L502 221 L507 221.5 L518 220.1 L521 219.1 L523 219.3 L526 218.4 L530 218.4 L536 216.4 L545 212Z"/>
<path fill="#fff000" stroke="#fff000" stroke-width="0.6" d="M487 68 L548.4 68 L549.7 79 L547.2 86 L545.6 88 L541 89.2 L507 88.1 L502 88.7 L498 90.7 L495 93.7 L491.5 99 L489.7 104 L489 112 L490.9 125 L488.4 136 L488.8 149 L489.6 152 L494.2 156 L503 159.9 L510 161.7 L524 163.5 L534 164 L552 160.9 L568 155.8 L586 148.4 L607 144.9 L615 142.9 L620 141 L627 135.4 L631 130.3 L644.1 103 L649.7 95 L652.9 88 L653.4 86 L653 82.7 L647.1 68 L651.6 68 L655.8 83 L656.1 88 L654.4 95 L651 98.2 L648.4 102 L634 131.8 L629.9 137 L622 144.3 L617 146.8 L611 148.9 L589 153 L573 159.6 L555 165.4 L538 168.4 L528 168.6 L511 165.9 L501 162.8 L492 158.2 L485 152.1 L484.4 151 L485.5 136 L488.5 125 L486.4 114 L485.9 108 L486.1 103 L488.5 88 L488.2 83 L485.9 73 L486.2 68ZM546 215 L557 214.1 L649 214.1 L715 214.7 L715 217.8 L551 217.8 L540.5 219 L529 222.3 L507 224.2 L498 224.1 L488 225.3 L418 225.4 L418 223.7 L486 223.7 L502 222.3 L506 222.8 L512 222.5 L530 220.5Z"/>
<path fill="#ecff00" stroke="#ecff00" stroke-width="0.6" d="M549 68 L559 68 L556.1 81 L550 91 L547 92.1 L542 92.7 L518 93 L505 94.1 L500 96.1 L496 99.5 L494 102 L492.7 105 L491.9 109 L491.9 115 L493.4 126 L491.2 135 L495.2 148 L497 150.8 L500 153 L508.1 156 L524 158.8 L531 159.4 L538 158.7 L554 155.6 L583 144.4 L602 139.5 L616 135 L621.1 132 L625 127.8 L634.5 109 L649.4 87 L649.8 84 L648.5 80 L641.4 68 L647.1 68 L652.5 81 L653.4 85 L653.3 87 L649.7 95 L644.1 103 L631 130.3 L628.3 134 L625.3 137 L619 141.5 L607 144.9 L587 148.2 L569 155.4 L555 160.1 L535 163.9 L528 163.9 L508 161.3 L500.5 159 L494 155.9 L490.3 153 L489.1 151 L488.4 137 L488.6 134 L490.9 125 L489.2 114 L489.1 107 L490.3 102 L493 96.4 L498 90.7 L503 88.5 L507 88.1 L540 89.2 L545 88.4 L547 86.3 L549.7 79 L548.4 69 L548.4 68ZM547 218 L715 217.8 L715 221.2 L548 221.3 L541 221.8 L530 223.8 L500 225.7 L489 227.1 L418 227.3 L418 225.4 L487 225.3 L498 224.1 L511 223.9 L530 222.2 L540 219.1Z"/>
<path fill="#c7ff00" stroke="#c7ff00" stroke-width="0.6" d="M559 68 L566.9 68 L552.9 91 L551 92.8 L543 94.4 L519 95 L508 96.2 L502 98.4 L496.8 103 L495.3 106 L494.4 111 L494.5 117 L495.6 126 L494.6 134 L495.8 137 L497.8 140 L503 145.9 L506 148.4 L513 151.3 L528 154.8 L533 154.8 L548 152.6 L556 150.2 L594.8 135 L603 130.7 L617 120.3 L619.7 117 L628.7 102 L633 98.1 L638.6 96 L645.1 87 L645.6 84 L643.7 80 L640 75.3 L632.8 68 L641.4 68 L648.1 79 L649.6 83 L649.7 86 L648.3 89 L633.9 110 L625 127.8 L621.1 132 L616 135 L602 139.5 L583 144.4 L554 155.6 L537 158.9 L528 159.3 L512 156.8 L504.7 155 L498.4 152 L496.3 150 L495 147.6 L491.2 135 L493.4 126 L491.9 115 L491.9 109 L492.7 105 L494.7 101 L500.2 96 L506 93.9 L518 93 L542 92.7 L547 92.1 L550 91 L556.1 81ZM540 222 L549 221.3 L715 221.2 L715 224.5 L547 224.5 L515 226.3 L489 229.2 L418 229.4 L418 227.3 L489 227.1 L500 225.7 L530 223.8Z"/>
<path fill="#9fff00" stroke="#9fff00" stroke-width="0.6" d="M567 68 L578 68 L571 73.1 L566 77.7 L558 86.5 L554 92.2 L552 93.9 L548 95.3 L543 96 L521 96.7 L511 97.8 L504.1 100 L499.2 104 L497.7 107 L496.8 113 L497.8 132 L500.7 137 L507.4 144 L514 147.4 L528 151 L534 151 L547 149.1 L555 146.5 L592 131.1 L598 127.9 L608 121.4 L614.2 116 L618.4 110 L624.2 100 L628 96 L628.3 94 L627.2 91 L627 88 L627.4 86 L629 83.5 L631 82.4 L634 86 L636 87.2 L638 86.1 L638.4 85 L638 83.4 L637 82.2 L631 80.1 L625.3 74 L617.9 68 L632.8 68 L643 78.9 L645.3 83 L645.5 86 L639 95.6 L637 96.9 L632 98.8 L628.7 102 L619.7 117 L617 120.3 L604 130 L596 134.5 L554 150.9 L549 152.4 L542 153.6 L532 154.9 L527 154.6 L512 151 L508 149.5 L505 147.7 L497.1 139 L494.6 134 L495.6 126 L494.5 117 L494.4 111 L495.3 106 L497 102.7 L502 98.4 L508 96.2 L519 95 L543 94.4 L551 92.8 L552.9 91ZM537 225 L548 224.5 L712 224.4 L715 224.5 L715 227.3 L541 227.3 L515 228 L489 231.1 L418 231.3 L418 229.4 L420 229.2 L489 229.2 L515 226.3Z"/>
<path fill="#75ff00" stroke="#75ff00" stroke-width="0.6" d="M577 68.8 L578 68 L617.9 68 L625.3 74 L631 80.1 L637 82.2 L638 83.4 L638.4 85 L638 86.1 L636 87.2 L634 86 L631 82.4 L629 83.5 L627.4 86 L627 88 L627.2 91 L628.3 94 L628 96 L624.2 100 L618.4 110 L614.2 116 L610 120 L601 126 L595 129.6 L589 132.4 L552 147.6 L546 149.3 L535 150.9 L527 150.9 L517 148.3 L510 145.7 L505.2 142 L499.2 135 L497.6 131 L496.9 112 L498.1 106 L500.1 103 L505 99.6 L512 97.6 L521 96.7 L543 96 L551 94.4 L553.3 93 L558 86.5 L567 76.7ZM595.8 73 L584 74.8 L572 79.2 L563 84.9 L559.4 88 L554.3 94 L550 96.3 L543 97.7 L517 98.9 L510 100.1 L505 102.2 L501 106 L499.3 113 L499 118 L499.7 126 L500.2 129 L501.5 132 L508 139.6 L513 143.1 L526 147.3 L534 147.6 L545 146 L551.6 144 L590 127.6 L599 122.5 L608.8 116 L614 109.7 L617.5 104 L619.2 100 L620.3 96 L620.4 91 L619.6 86 L618.4 83 L616.3 80 L614 77.9 L610 75.5 L606 74.1 L601 73.2ZM516 228 L542 227.2 L712 227.2 L715 227.3 L715 229.9 L521 229.9 L514 230.2 L489 233.1 L418 233.3 L418 231.3 L489 231.1Z"/>
<path fill="#4aff00" stroke="#4aff00" stroke-width="0.6" d="M596 73 L601 73.2 L606 74.1 L610 75.5 L614 77.9 L616.3 80 L618.4 83 L619.6 86 L620.4 91 L620.3 96 L619.2 100 L617.5 104 L614 109.7 L608.8 116 L599 122.5 L590 127.6 L551.6 144 L545 146 L534 147.6 L526 147.3 L513 143.1 L508 139.6 L501.5 132 L500.2 129 L499.7 126 L499 118 L499.3 113 L501 106 L505 102.2 L510 100.1 L517 98.9 L543 97.7 L550 96.3 L554.3 94 L559.4 88 L563 84.9 L572 79.2 L584 74.8ZM579.3 84 L572 84.9 L566 87 L561 90 L554 96.6 L549 98.6 L542 99.9 L518.1 101 L512 102.2 L507.2 104 L505 105.7 L503.3 108 L501.9 114 L502 121.6 L502.8 126 L504 128.9 L511 137 L514 139.3 L518 141 L529 144.1 L540.7 143 L548.6 141 L588.2 124 L597.2 119 L606.3 113 L612 105.7 L614.8 100 L615.5 94 L615.1 92 L614 90 L609 86.2 L602 83.8 L594 83.3ZM517 230 L711 229.8 L715 229.9 L715 232.7 L521 232.3 L514 232.6 L489 235.1 L418 235.4 L418 233.3 L489 233.1Z"/>
<path fill="#20ff00" stroke="#20ff00" stroke-width="0.6" d="M580 84 L594 83.3 L602 83.8 L609 86.2 L614 90 L615.1 92 L615.5 94 L614.8 100 L612 105.7 L606.3 113 L597.2 119 L588.2 124 L548.6 141 L540.7 143 L529 144.1 L518 141 L514 139.3 L511 137 L504 128.9 L502.8 126 L502 121.6 L501.9 114 L503.3 108 L505 105.7 L507.2 104 L512 102.2 L518.1 101 L542 99.9 L549 98.6 L554 96.6 L561 90 L566 87 L572 84.9ZM510 233 L522 232.3 L715 232.7 L715 245.2 L497 245.2 L485 242.6 L418 242.6 L418 235.4 L488 235.2Z"/>
<path fill="#08ff23" stroke="#08ff23" stroke-width="0.6" d="M419 242.6 L485 242.6 L497 245.2 L715 245.2 L715 246.9 L497 246.9 L485 244.2 L418 244.2 L418 242.6Z"/>
<path fill="#02ff69" stroke="#02ff69" stroke-width="0.6" d="M419 244.2 L485 244.2 L497 246.9 L715 246.9 L715 248.4 L497 248.4 L485 245.8 L418 245.8 L418 244.2Z"/>
<path fill="#00ffa9" stroke="#00ffa9" stroke-width="0.6" d="M419 245.8 L485 245.8 L497 248.4 L715 248.4 L715 249.8 L497 249.8 L485 247.1 L418 247.1 L418 245.8Z"/>
<path fill="#00ffe2" stroke="#00ffe2" stroke-width="0.6" d="M419 247.1 L485 247.1 L497 249.8 L715 249.8 L715 251 L497 251 L485 248.5 L418 248.5 L418 247.1Z"/>
<path fill="#00e2ff" stroke="#00e2ff" stroke-width="0.6" d="M419 248.5 L485 248.5 L497 251 L715 251 L715 253.5 L497 253.5 L485 250.8 L418 250.8 L418 248.5Z"/>
<path fill="#00a7ff" stroke="#00a7ff" stroke-width="0.6" d="M419 250.8 L485 250.8 L497 253.5 L715 253.5 L715 256.6 L497 256.6 L485 253.8 L418 253.8 L418 250.8Z"/>
<path fill="#0054ff" stroke="#0054ff" stroke-width="0.6" d="M419 253.8 L485 253.8 L497 256.6 L715 256.6 L715 261 L497 261 L485 258.3 L418 258.3 L418 253.8Z"/>
<path fill="#0021f9" stroke="#0021f9" stroke-width="0.6" d="M419 258.3 L485 258.3 L497 261 L715 261 L715 275 L418 275 L418 258.3Z"/>
</g>
<path d="M504 80.2H556V82.5L552 90L546 94.5H504Z" fill="#ffff00"/>
<rect x="559" y="79.3" width="110" height="2.6" fill="#fff"/>
<path d="M503.3 108.2 L506.5 103.4 L519.4 100.2 L545.1 99.2 L554.7 95.4 L561.2 88.9 L570.8 85.7 L603 85.7 L615.9 92.2 L614.2 101.8 L606.2 113.1 L590.1 122.7 L567.6 132.4 L545.1 142 L529 144.3 L512.9 138.8 L503.3 127.5 L501 116.3Z" fill="none" stroke="#fff" stroke-width="1.1" stroke-linejoin="round" />
<path d="M503.2 94.6 L512.9 95.6 L548.3 94.9 L554.7 90.7 L556.3 85.9 L555.5 81.9 L559.5 79.8" fill="none" stroke="#fff" stroke-width="1.2" stroke-linejoin="round" />
<path d="M503.2 95.6 L512.9 96.5 L548.6 95.9 L555.5 91.5 L557.3 86.2 L556.6 82.7 L560.3 81.1 L570 82.1" fill="none" stroke="#6a2c12" stroke-width="1.5" stroke-linejoin="round" />
<path d="M560 82.1 L605 81.1 L630.7 79.5 L662.9 79.8" fill="none" stroke="#6a2c12" stroke-width="1.5" stroke-linejoin="round" />
<path d="M451.8 129.2 L467.9 140.4 L484 151.7 L506.5 159.7 L532.2 162.9 L551.5 159.7 L570.8 153.3 L583.7 146.8 L603 144.3 L619.1 140.4 L628.7 132.4 L631.9 121.1 L641.6 113.1 L654.5 103.4 L667.3 97" fill="none" stroke="#6a2c12" stroke-width="1.5" stroke-linejoin="round" />
<path d="M451.8 129.2 L466.3 143.6 L469.5 156.5 L479.2 169.4 L493.6 179 L503.3 185.4 L512.9 198.3 L514.5 206.3 L500.1 217.6 L474.3 220.2 L418 220.8" fill="none" stroke="#fff" stroke-width="1.1" stroke-linejoin="round" />
<path d="M665.7 80.9 L672.1 90.6 L675.4 98.6 L667.3 108.2 L664.1 124.3 L657.7 143.6 L654.5 162.9 L660.9 179 L677 188.7 L699.5 192.5 L714.9 190.3" fill="none" stroke="#fff0e4" stroke-width="1.1" stroke-linejoin="round" />
<path d="M418 243.3 L490.4 243.3 L492 245.9 L590.1 245.9 L591.7 247.5 L603 247.5 L604.6 245.9 L714.9 245.9" fill="none" stroke="#6a2c12" stroke-width="1.7" stroke-linejoin="round" />
<path d="M418 252 L474.3 252 L496.8 255.6 L714.9 255.6" fill="none" stroke="#fff" stroke-width="1.2" stroke-linejoin="round" />
<path d="M418 68H500.5Q503.3 68 503.3 71V88L501 105L498.5 122L495 129.6H418" fill="none" stroke="#000" stroke-width="1.7"/>
<path d="M503.3 79H548" stroke="#000" stroke-width="1.5" fill="none"/>
<path d="M511 79.2H539" stroke="#ff00e0" stroke-width="1.6" fill="none"/>
<path d="M668 79H689" stroke="#000" stroke-width="1.6" fill="none"/>
<path d="M688.5 79.6H715" stroke="#ff00e0" stroke-width="1.5" fill="none"/>
<path d="M559.5 47.0 l-2.3 0.7 l-2.7 4.3 l-0.2 7 l-3.8 2.7 l-3.5 3.3 V78.8 H559.5 Z" fill="#d2ea00" stroke="#000" stroke-width="1.1" stroke-linejoin="round"/>
<path d="M555.9 55.0 V77.3 H559.0 V55.0 Z" fill="#9cb400" stroke="none"/>
<path d="M555.7 62.0 V74.3 L550.5 77.3" fill="none" stroke="#3c4800" stroke-width="1"/>
<path d="M668.5 47.0 l2.3 0.7 l2.7 4.3 l0.6 6.5 l4.6 4 l4.3 6 V78.8 H668.5 Z" fill="#ffb400" stroke="#000" stroke-width="1.1" stroke-linejoin="round"/>
<path d="M669.1 48.0 l1.8 0.9 l2.2 3.8 l0.5 6 l1 1 V71.0 H669.1 Z" fill="#e6e800" stroke="none"/>
<path d="M673.1 60.0 V75.1 H679.0 V70.3" fill="none" stroke="#3a2800" stroke-width="1.1"/>
<path d="M546.5 78.9 H559.5 M668.5 78.9 H683.0" stroke="#000" stroke-width="1.5"/>
<rect x="559.5" y="47.0" width="109.0" height="31.3" fill="#90ff00" stroke="#000" stroke-width="1.3"/>
<path d="M560.3 48.2 H667.7" stroke="#e800d0" stroke-width="1.3"/>
<path d="M565.5 36.6 H662.5" stroke="#000" stroke-width="1.4"/><path d="M560.0 36.6 l6.5 -2.9 v5.8 Z M668.0 36.6 l-6.5 -2.9 v5.8 Z" fill="#000"/>
<path d="M565.5 94.8 H610.0" stroke="#f00000" stroke-width="1.4"/><path d="M560.0 94.8 l6.5 -2.9 v5.8 Z M615.5 94.8 l-6.5 -2.9 v5.8 Z" fill="#f00000"/>
<path d="M622.5 94.8 H662.5" stroke="#0000f0" stroke-width="1.4"/><path d="M617.0 94.8 l6.5 -2.9 v5.8 Z M668.0 94.8 l-6.5 -2.9 v5.8 Z" fill="#0000f0"/>
<text x="605.5" y="28.0" class="ab" font-size="16.5" fill="#000">L<tspan font-size="11.5" dy="3.6">G</tspan></text>
<text x="572.5" y="116.0" class="ab" font-size="16.5" fill="#f00000">L<tspan font-size="11.5" dy="4.3">Geff</tspan></text>
<text x="628.0" y="115.0" class="ab" font-size="16.5" fill="#0000f0">Wj<tspan font-size="11.5" dy="4.3">B'D</tspan></text>
<g clip-path="url(#c3)">
<rect x="745" y="63" width="242" height="210" fill="#ff4a00"/>
<path fill="#ff4a00" stroke="#ff4a00" stroke-width="0.6" d="M965 63.4 L965.4 63 L986 63 L986 151.4 L961 147.8 L956 146.2 L952.7 144 L950.2 141 L947.1 133 L946.4 128 L946.8 120 L949 100 L951.2 89 L950.7 77 L953 72.9ZM749 116.5 L751 116 L753.2 117 L753.6 119 L751.9 121 L750 121.5 L748.5 121 L747.7 120 L747.7 118ZM780 149 L785 148.9 L789 151.1 L803.7 166 L816.2 180 L818.1 184 L818.3 191 L819.6 197 L819.1 200 L817 202 L813 203.4 L786 207 L751 206.6 L745 205.4 L745 151.9 L769 152.4Z"/>
<path fill="#ff5c00" stroke="#ff5c00" stroke-width="0.6" d="M955 63.3 L965.4 63 L953 72.9 L950.7 77 L951.2 89 L949 100 L947 118.3 L946.4 127 L947 132.4 L948.3 137 L950.2 141 L952.7 144 L956 146.2 L961 147.8 L986 151.4 L986 185.2 L983.9 187 L982 187.6 L977 188 L965 187.6 L955.3 186 L948 184 L941.1 181 L938 179 L935.1 175 L932.9 169 L932.5 165 L933 159.7 L934.1 156 L937.7 150 L939.2 146 L944.8 104 L948.9 89 L948.2 76 L950 71.3ZM745.7 90 L751 95 L760 97.2 L765 99.4 L781.8 113 L787 118 L788.1 120 L787.9 122 L785.2 125 L780.3 128 L777.5 132 L776.9 134 L779 135.8 L785 136.5 L788 138 L789.3 140 L791.1 147 L792.4 150 L800 159 L811 168.6 L826.2 177 L831.9 182 L834.9 187 L836.7 194 L836.2 198 L833.8 201 L823.4 206 L817 207.5 L804 207.7 L784 209.3 L750 208.6 L745 208.1 L745 205.4 L751 206.6 L785 207 L810 203.9 L814.7 203 L817 202 L819.1 200 L819.6 198 L818.3 191 L818.1 184 L816.9 181 L803.7 166 L787 149.6 L784 148.7 L781 148.8 L771 152 L768 152.5 L745 151.9 L745 89.4ZM748.3 117 L747.5 119 L747.7 120 L749 121.3 L751.9 121 L753.6 119 L753.2 117 L752 116.2 L750 116.1ZM758.9 134 L749.6 135 L748.1 137 L749 140 L752 143.2 L755 143.8 L765 140.6 L767.2 139 L767.3 137 L766.2 136 L762 134.1Z"/>
<path fill="#ff6e00" stroke="#ff6e00" stroke-width="0.6" d="M746 63 L754.1 63 L757.8 73 L763 80.7 L795 112.5 L798 116.1 L799.4 119 L799.3 121 L794.8 128 L793.5 132 L794 145 L794.9 149 L801 156.5 L809 163.4 L815 167.3 L830.7 175 L837.1 181 L840.2 187 L842 196 L840.4 201 L837 204.4 L833 206.2 L822.8 209 L818 210 L813 210.4 L801 210.4 L783 211.5 L749 210.5 L745 209.9 L745 208.1 L750 208.6 L784 209.3 L803 207.8 L819 207.3 L823.4 206 L833.8 201 L836.2 198 L836.7 195 L836 190.6 L834.5 186 L832.7 183 L830.1 180 L826.2 177 L811 168.6 L800 159 L792.4 150 L791.1 147 L789.3 140 L788 138 L785 136.5 L779 135.8 L777 134.1 L777.5 132 L780.3 128 L785.2 125 L787.9 122 L788.1 120 L786.1 117 L773 105.6 L765 99.4 L760 97.2 L751 95 L745 89.4 L745 63ZM950 63 L955.2 63 L950 71.3 L948.2 76 L948.9 89 L944.8 104 L939.2 146 L937.7 150 L934.1 156 L933 159.7 L932.5 165 L933 169.2 L935.1 175 L938 179 L943.2 182 L951 185 L964 187.5 L976 188 L982 187.6 L983.9 187 L986 185.2 L986 195 L980 195.8 L968 195.3 L953 193.6 L945 191.8 L938 188.6 L933 185 L929.1 180 L926.6 174 L925.9 168 L926.9 161 L928.6 156 L934.2 144 L942 101.5 L943.7 96 L947.2 89 L946.5 75ZM759 134 L762 134.1 L766.2 136 L767.3 137 L767.2 139 L765 140.6 L755 143.8 L752 143.2 L749 140 L748.1 137 L749.6 135Z"/>
<path fill="#ff8000" stroke="#ff8000" stroke-width="0.6" d="M755 63 L765 63 L766.5 67 L780.4 83 L791 99 L799 108.6 L804 116 L805.3 119 L805 121.7 L798.6 129 L796.3 134 L795.9 143 L796.8 148 L802 154.2 L809 160.1 L817 165.3 L833.2 173 L838.2 177 L841.9 181 L846.6 190 L847.7 193 L848 196 L847.5 198 L845.7 201 L840.6 206 L833 208.9 L818 212 L808 213.2 L783 214.2 L776 213.8 L748 214.4 L745 212.4 L745 209.9 L749 210.5 L783 211.5 L818.2 210 L832 206.5 L836 205 L838.8 203 L840.4 201 L842 196 L841.3 191 L839.5 185 L837.8 182 L834.4 178 L829 174 L816 167.8 L811 164.8 L802 157.5 L795.4 150 L794.1 146 L793.5 132 L794.8 128 L799.3 121 L799.1 118 L795 112.5 L784.9 103 L762.4 80 L759.5 76 L757 71.2 L754.1 63ZM947 63 L950 63 L946.5 75 L947.2 89 L943.7 96 L942 101.5 L934.2 144 L928.6 156 L926.6 162 L925.9 169 L926.9 175 L929.1 180 L932 184 L936 187.4 L942 190.6 L950 193.1 L963 194.9 L979 195.9 L986 195 L986 201 L970 201.5 L959 200 L945 199.8 L924 191.7 L922.8 192 L918 197 L916 197.3 L909 196.3 L905 196.5 L892 200.8 L881 197.4 L878 197.5 L872 199 L870 199 L860.4 195 L859.7 194 L860.3 192 L862.2 190 L865.4 188 L868 187.6 L880 187.9 L892 181.9 L903 182 L918 183.6 L918.5 182 L918.1 174 L920.4 164 L922.2 159 L928 148.6 L929.9 144 L940 99 L941.9 94 L945 90 L945.8 88 L944.9 73 L946.1 63Z"/>
<path fill="#ff9000" stroke="#ff9000" stroke-width="0.6" d="M765 63 L779.7 63 L781.2 67 L791.4 83 L797.8 97 L807 114.4 L808.3 119 L807.9 122 L806.1 125 L800 131.7 L797.5 137 L797.6 144 L799.1 148 L807 155.6 L817.9 163 L835 170.8 L848 178.4 L851 179.5 L855 179.9 L877 176.8 L901 169.7 L908 166.4 L914 160.4 L922 149.2 L925.2 143 L929 132.1 L934.2 111 L938 99 L940.4 93 L944 88 L942.7 63 L946.1 63 L944.8 74 L945.8 88 L945 90 L941.9 94 L940 99 L929.9 144 L928 148.6 L922.2 159 L920.4 164 L918.1 174 L918.5 182 L918 183.6 L903.6 182 L893 181.8 L890 182.7 L880 187.9 L868 187.6 L865.4 188 L861.1 191 L859.7 193 L859.7 194 L862.3 196 L870 199 L872 199 L878 197.5 L881 197.4 L892 200.8 L905 196.5 L909 196.3 L916 197.3 L918 197 L922.8 192 L924 191.7 L945 199.8 L959 200 L970 201.5 L986 201 L986 205.2 L970 206.3 L962 205.3 L955 205.1 L944 206.2 L935 204.6 L930 204.3 L918 205.4 L904 204.9 L892 206.4 L881 205.2 L871 205.5 L856 204.9 L850 205.6 L839 209.3 L823 213.4 L808 215.4 L758 216.6 L748 216.7 L745 216.1 L745 212.4 L748 214.4 L758 214.4 L765 213.9 L768 214.3 L776 213.8 L793 213.9 L801 213.2 L808 213.2 L818 212 L833 208.9 L839 206.9 L842 205 L844.9 202 L847.5 198 L848 196 L847.4 192 L844.4 185 L841.9 181 L838.2 177 L832 172.3 L818 165.9 L812 162.2 L804 156.1 L797.4 149 L796.5 147 L796 144 L795.8 138 L796.3 134 L798.6 129 L804.9 122 L805.4 120 L805 118 L800 110 L790.3 98 L780.4 83 L766.5 67Z"/>
<path fill="#ffa200" stroke="#ffa200" stroke-width="0.6" d="M780 63 L793.3 63 L794 66.2 L801 81.8 L804.6 98 L810.5 116 L811.1 120 L809.8 124 L799 137 L798.7 139 L799.3 144 L800.6 147 L809 154.5 L822 162.4 L846 171.7 L851 173 L856 173.4 L867 172.5 L880 169.6 L899 162.6 L906 158.5 L917 147.4 L920 142.6 L925 132.1 L931.4 112 L936.9 97 L942.3 87 L942.4 79 L939.3 63 L942.7 63 L944 88 L940.9 92 L938.3 98 L934.5 110 L928.4 134 L925.2 143 L922.8 148 L912 162.8 L909 165.7 L905 168.1 L879 176.3 L860 179.5 L854 179.9 L849 178.8 L835 170.8 L817 162.5 L805 154 L800 149.1 L798.1 146 L797.3 139 L797.7 136 L800 131.7 L807.4 123 L808.2 121 L808.2 118 L806 112.2 L797.8 97 L791.9 84 L781.2 67 L779.9 64ZM855 204.9 L871 205.5 L881 205.2 L892 206.4 L904 204.9 L918 205.4 L930 204.3 L935 204.6 L944 206.2 L955 205.1 L962 205.3 L970 206.3 L986 205.2 L986 208.8 L971 209.3 L929 208.9 L858 209.3 L843 210.7 L823 215.3 L808 217.2 L758 218.1 L745 217.7 L745 216.1 L748 216.7 L793 216 L813 214.9 L828 212.3 L839 209.3 L849 205.9Z"/>
<path fill="#ffb300" stroke="#ffb300" stroke-width="0.6" d="M794 63 L807.5 63 L810 81 L809.8 93 L810.3 101 L813.3 118 L813.4 121 L812.4 124 L810 128.1 L800.5 138 L800.5 140 L801.7 145 L804 147.8 L810 152.6 L822 159.6 L840 165.4 L849 167.5 L856 168.2 L862 168 L881 164.2 L898 156.7 L909 148.6 L914.2 143 L921 130.9 L935.4 96 L940.3 87 L940.8 83 L940.5 78 L935.6 63 L939.3 63 L942.2 78 L942.5 86 L941.9 88 L936.9 97 L931 113 L925.8 130 L921.3 140 L917 147.4 L908 156.7 L905 159.3 L901 161.7 L882 169.1 L866 172.6 L857 173.4 L851 173 L841 170 L820 161.4 L808 153.7 L802.4 149 L800 146 L798.7 139 L799 137 L809 125.3 L810.7 122 L811.1 119 L809.9 114 L804.3 97 L801.1 82 L793.9 66 L793.3 63ZM907 209 L971 209.3 L986 208.8 L986 211.7 L864 212.2 L840 213.5 L823 216.7 L808 218.6 L745 219.1 L745 217.7 L758 218.1 L808 217.2 L823 215.3 L837 211.8 L853 209.6Z"/>
<path fill="#ffc600" stroke="#ffc600" stroke-width="0.6" d="M808 63 L819.6 63 L817.6 73 L817.4 83 L815.2 93 L814.3 101 L815.3 122 L813.6 127 L811.2 131 L803.2 139 L803.1 142 L804.8 145 L807.8 148 L813 151.8 L818 154.5 L827 158.4 L842 161.6 L848 162.4 L855 162.5 L876 160.7 L881 159.4 L887 156.8 L894 153.5 L898 150.9 L909.1 141 L918.6 127 L924.7 114 L930 104.2 L934.1 94 L938 87 L938.8 82 L938.3 78 L931.5 63 L935.6 63 L940.5 78 L940.6 86 L935.4 96 L922 128.9 L914.9 142 L910 147.7 L899 156.1 L881 164.2 L862 168 L855 168.1 L848 167.3 L828 161.8 L821 159.1 L809 151.9 L803.1 147 L801.3 144 L800.5 138 L810 128.1 L812.4 124 L813.4 121 L813.3 118 L810.3 101 L809.8 93 L810 82 L807.7 67 L807.5 63ZM904 212 L986 211.7 L986 214.3 L865 215 L837 216.1 L808 219.8 L745 220.3 L745 219.1 L808 218.6 L823 216.7 L837 213.9 L848 212.9 L866 212.1Z"/>
<path fill="#ffd900" stroke="#ffd900" stroke-width="0.6" d="M820 63 L829.2 63 L825.4 72 L823.9 77 L823.3 81 L823.8 88 L820 94.3 L817.9 101 L817.1 109 L817.4 121 L816.4 126 L814 132.3 L808.1 140 L807.4 143 L809.6 146 L815.2 150 L824 154.3 L831 156.3 L849 158.6 L872 157.6 L881 155.4 L894 149.5 L905 140.7 L910.3 134 L916.5 124 L922 112.5 L928.1 102 L935 87.3 L935.9 82 L935.3 78 L926.5 63 L931.5 63 L938.3 78 L938.8 81 L938.5 85 L937.6 88 L933.6 95 L930 104.2 L924.7 114 L918.6 127 L909.1 141 L898 150.9 L894 153.5 L887 156.8 L881 159.4 L876 160.7 L855 162.5 L848 162.4 L842 161.6 L827 158.4 L818 154.5 L813 151.8 L807.8 148 L804.8 145 L803 141.6 L803.2 139 L809 133.6 L812 129.8 L814 126 L815.3 122 L814.3 101 L815.2 93 L817.4 83 L817.7 72ZM856 82 L864 82 L868 82.7 L870 84 L871 85.4 L871.4 87 L871 89 L868 93 L865 94.2 L848 94.4 L840 94.1 L835 93.2 L830.8 91 L829.7 90 L828.7 88 L830.7 85 L835 83.1 L841 82.3ZM865 215 L986 214.3 L986 217 L864 217.9 L835 218.6 L808 221 L745 221.5 L745 220.3 L808 219.8 L837 216.1Z"/>
<path fill="#fff000" stroke="#fff000" stroke-width="0.6" d="M829 63.5 L829.2 63 L853.6 63 L846.9 66 L842.3 69 L839.5 72 L839.1 73 L839.5 74 L843 74.9 L848 75.2 L871 74.6 L874 75.7 L875 78 L874.8 85 L874 89.3 L871.5 95 L869 96.9 L863 97.6 L837 97.9 L833 97.5 L826 95.7 L824 96.5 L822.7 98 L820 107 L819.4 122 L817.7 133 L815.1 141 L814.9 143 L816 145 L820.3 148 L826 150.5 L831.7 152 L852 154.4 L869 153.7 L875 152.8 L881.2 151 L888 148.4 L893 145.7 L903.3 138 L910 129 L914.3 122 L924.9 101 L930.6 88 L931.5 83 L930.9 79 L926.1 71 L920.1 63 L926.5 63 L935.3 78 L935.9 81 L935.6 85 L934.7 88 L928.1 102 L922.3 112 L917.1 123 L913.6 129 L905.7 140 L894.8 149 L890 151.7 L882 155 L877 156.7 L872 157.6 L849 158.6 L830 156.1 L823.2 154 L813.5 149 L808.6 145 L807.3 142 L808.1 140 L814 132.3 L816.4 126 L817.4 121 L817.1 109 L817.9 101 L820 94.3 L823.8 88 L823.3 81 L823.9 77 L825.4 72ZM855.8 82 L841 82.3 L835 83.1 L830.7 85 L828.7 88 L829.7 90 L830.8 91 L835 93.2 L840 94.1 L848 94.4 L865 94.2 L868 93 L871 89 L871.4 87 L871 85.4 L870 84 L868 82.7 L864 82ZM986 217 L986 219.6 L838 220.9 L804 222.4 L745 222.8 L745 221.5 L808 221 L840 218.4Z"/>
<path fill="#ecff00" stroke="#ecff00" stroke-width="0.6" d="M852 63.7 L853.6 63 L892 63 L888.6 66 L886.3 69 L883 77 L878.6 84 L874 96 L872 98.3 L865 99.5 L828 100.7 L826 101.6 L824.9 103 L822.6 108 L821.7 113 L821.1 127 L822.3 134 L825 138.1 L832 144 L836 146.3 L841 147.6 L858 150.1 L864 149.5 L875 147.5 L881 146.1 L886 144.3 L899.5 136 L905 130.3 L913 118.5 L920.8 102 L924.7 88 L924.6 80 L922.1 74 L917 68.2 L909.5 63 L920.1 63 L926.1 71 L930.9 79 L931.5 82 L931.4 85 L929 92.1 L914.8 121 L908 132.1 L904 137.3 L900 140.7 L891 146.9 L884 150 L876 152.6 L870 153.6 L858 154.5 L848 154.2 L836 152.7 L827.4 151 L818.5 147 L815.3 144 L814.9 142 L817.5 134 L819.4 122 L820 106.8 L822 99.5 L824 96.5 L827 95.7 L833 97.5 L837 97.9 L866 97.5 L868.8 97 L870.6 96 L873 92 L874.6 87 L875 79 L874.9 77 L873 75.1 L870 74.5 L848 75.2 L843 74.9 L839.5 74 L839.1 73 L839.5 72 L842.3 69 L846.9 66ZM947 220 L986 219.6 L986 222.1 L745 224.4 L745 222.8 L804 222.4 L838 220.9Z"/>
<path fill="#c7ff00" stroke="#c7ff00" stroke-width="0.6" d="M891 63.9 L892 63 L909.5 63 L916 67.4 L919.8 71 L923 75.5 L924.6 80 L925 85 L924.6 89 L920.8 102 L912.7 119 L905 130.3 L902 133.8 L899 136.4 L886 144.3 L880 146.4 L865 149.4 L857 150 L841 147.6 L836 146.3 L831 143.3 L826 139 L823.3 136 L821.3 130 L821.1 126 L821.8 112 L823 106.9 L825 102.8 L826 101.6 L828 100.7 L865 99.5 L872 98.3 L874 96 L878.6 84 L883 77 L886 69.6 L888 66.6ZM897.9 70 L892 73.1 L887 78.3 L881 86.1 L875.9 97 L873 99.7 L867 100.8 L839 102.3 L831 103.8 L828 105.3 L826 107.7 L824.8 110 L823.8 116 L823.8 128 L825 130.9 L827 133.6 L833.9 140 L838 142.4 L849 144.9 L859 146.1 L866 145.2 L882 141.5 L889 138 L899 131.4 L903 127 L909 118.9 L916 105.4 L918.9 96 L920 86 L919.6 82 L918.3 78 L917 76 L914 73.3 L910 71 L906 69.7 L902 69.4ZM867 223 L986 222.1 L986 224.3 L745 226.1 L745 224.4Z"/>
<path fill="#9fff00" stroke="#9fff00" stroke-width="0.6" d="M898 70 L902 69.4 L906 69.7 L910 71 L914 73.3 L917 76 L918.8 79 L919.8 83 L920.1 87 L918.5 98 L915 107.5 L909 118.9 L903 127 L899 131.4 L889 138 L882 141.5 L866 145.2 L859 146.1 L849 144.9 L838 142.4 L833.9 140 L827 133.6 L825 130.9 L823.8 128 L823.8 116 L824.8 110 L826 107.7 L828 105.3 L831 103.8 L839 102.3 L867 100.8 L873 99.7 L875.9 97 L881 86.1 L887 78.3 L892 73.1ZM896.9 78 L891 81 L885 86.2 L882.8 89 L878 98 L874 101 L867 102.3 L841 104 L834 105.7 L830 107.8 L827 112 L826.2 116 L826.5 126 L828.5 130 L835 136.2 L839.5 139 L850 141.5 L859 142.6 L866 141.6 L880.7 138 L886 135.4 L895 129.8 L901.2 123 L908 112.4 L913.4 101 L914.7 96 L915.3 91 L915 87 L914.2 84 L913 81.6 L911 79.6 L908 78 L904 77.1 L901 77.1ZM884 225 L986 224.3 L986 226.4 L745 227.9 L745 226.1 L749 225.9Z"/>
<path fill="#75ff00" stroke="#75ff00" stroke-width="0.6" d="M897 78 L904 77.1 L908 78 L911 79.6 L913 81.6 L914.2 84 L915 87 L915.3 91 L914.7 96 L913.4 101 L908 112.4 L901.2 123 L895 129.8 L886 135.4 L880.7 138 L866 141.6 L859 142.6 L850 141.5 L839.5 139 L835 136.2 L828.5 130 L826.5 126 L826.2 116 L827 112 L830 107.8 L834 105.7 L841 104 L867 102.3 L874 101 L878 98 L883 88.7 L886 85.2 L892 80.3ZM881.9 100 L873 103.2 L843 105.8 L838 107 L834 108.8 L831 111.4 L829 115.4 L829.2 122 L830.6 127 L834.3 131 L841 135.5 L846 137.2 L856 139 L860 139 L865.6 138 L877 135.2 L882.3 133 L890.8 128 L894 125.3 L898.3 119 L899.8 114 L899.6 112 L898.7 110 L892 105.3 L887 99.9 L885 99.1ZM881 227 L984 226.4 L986 226.4 L986 228.5 L745 229.9 L745 227.9 L749 227.7Z"/>
<path fill="#4aff00" stroke="#4aff00" stroke-width="0.6" d="M882 99.9 L885 99.1 L887 99.9 L892 105.3 L898.7 110 L899.6 112 L899.8 114 L898.3 119 L894 125.3 L890.8 128 L882.3 133 L877 135.2 L865.6 138 L860 139 L856 139 L846 137.2 L841 135.5 L834.3 131 L830.6 127 L829.2 122 L829 115.4 L831 111.4 L834 108.8 L838 107 L843 105.8 L873 103.2ZM868.4 107 L849 108.5 L842 110.1 L837 113.4 L834.7 116 L834.1 119 L835.1 123 L838 126.7 L842 129.7 L846 131.4 L851 132.5 L855 132.7 L865 132 L872 130.4 L877 128.5 L881.3 126 L884.5 123 L885.9 120 L885.6 118 L881.4 111 L878 108 L874.3 107ZM879 229 L983 228.4 L986 228.5 L986 230.9 L745 232 L745 229.9 L749 229.6Z"/>
<path fill="#20ff00" stroke="#20ff00" stroke-width="0.6" d="M869 107 L875 107.1 L879 108.6 L882.1 112 L885.6 118 L885.9 120 L884.5 123 L881.3 126 L877 128.5 L872 130.4 L865 132 L855 132.7 L851 132.5 L846 131.4 L842 129.7 L838 126.7 L835.1 123 L834.1 119 L834.7 116 L837 113.4 L842 110.1 L850 108.4ZM914 231 L986 230.9 L986 239.6 L840 239.4 L805 236.8 L745 236 L745 232 L749 231.7Z"/>
<path fill="#08ff23" stroke="#08ff23" stroke-width="0.6" d="M746 236.1 L805 236.8 L840 239.4 L986 239.6 L986 241.2 L840 241.1 L805 238.4 L745 237.7 L745 236Z"/>
<path fill="#02ff69" stroke="#02ff69" stroke-width="0.6" d="M746 237.7 L805 238.4 L840 241.1 L986 241.2 L986 242.8 L840 242.7 L805 240 L745 239.3 L745 237.7Z"/>
<path fill="#00ffa9" stroke="#00ffa9" stroke-width="0.6" d="M746 239.3 L805 240 L840 242.7 L986 242.8 L986 244.1 L840 243.9 L805 241.2 L745 240.6 L745 239.3Z"/>
<path fill="#00ffe2" stroke="#00ffe2" stroke-width="0.6" d="M746 240.6 L805 241.2 L840 243.9 L986 244.1 L986 245.5 L840 245.3 L805 242.7 L745 241.9 L745 240.6Z"/>
<path fill="#00e2ff" stroke="#00e2ff" stroke-width="0.6" d="M746 241.9 L805 242.7 L840 245.3 L986 245.5 L986 247.8 L840 247.7 L805 245 L745 244.3 L745 241.9Z"/>
<path fill="#00a7ff" stroke="#00a7ff" stroke-width="0.6" d="M746 244.3 L805 245 L840 247.7 L986 247.8 L986 250.8 L840 250.8 L805 248 L745 247.4 L745 244.3Z"/>
<path fill="#0054ff" stroke="#0054ff" stroke-width="0.6" d="M746 247.4 L805 248 L840 250.8 L986 250.8 L986 255.3 L840 255.2 L805 252.5 L745 251.8 L745 247.4Z"/>
<path fill="#0021f9" stroke="#0021f9" stroke-width="0.6" d="M746 251.8 L805 252.5 L840 255.2 L986 255.3 L986 273 L745 273 L745 251.8Z"/>
</g>
<rect x="886" y="74" width="58" height="2.4" fill="#fff"/>
<path d="M878.4 98.2 L864.7 104.1 L841.2 106 L833.3 109.9 L829.4 115.8 L831.4 127.6 L843.1 135.4 L858.8 138.4 L878.4 133.5 L892.1 125.6 L901.9 115.8" fill="none" stroke="#fff" stroke-width="1.0" stroke-linejoin="round" />
<path d="M878.4 98.2 L884.3 88.4 L892.1 83.5 L905.8 82.9 L911.7 86.4 L912.7 94.3 L907.8 104.1 L901.9 115.8" fill="none" stroke="#fff" stroke-width="1.0" stroke-linejoin="round" stroke-dasharray="3 2"/>
<path d="M831.4 100.5 L872.5 100.5 L877.6 93.9 L880.3 82.5 L883.3 76.6 L898 75.8" fill="none" stroke="#fff" stroke-width="1.2" stroke-linejoin="round" />
<path d="M831.4 101.7 L872.9 101.7 L878.8 94.7 L881.5 83.3 L884.3 77.8 L898 77.6 L945 76.6" fill="none" stroke="#6a2c12" stroke-width="1.5" stroke-linejoin="round" />
<path d="M800 138.4 L811.8 147.2 L825.5 154 L849 157 L874.5 156 L892.1 149.1 L905.8 139.3 L913.7 125.6 L919.5 111.9 L929.3 102.1 L941.1 92.3 L946 89.4" fill="none" stroke="#6a2c12" stroke-width="1.5" stroke-linejoin="round" />
<path d="M780.7 126.3 L795.1 136.2 L793.8 149.3 L802.9 159.7 L813.4 167.6 L831.7 175.4 L839.5 183.3 L843.4 198.9 L839.5 204.2 L821.2 213.3 L808.2 215.9 L791.2 217.2 L745.5 219.3" fill="none" stroke="#fff" stroke-width="1.1" stroke-linejoin="round" />
<path d="M946.1 74.8 L948 89.2 L944 102.3 L941.4 117.9 L938.8 136.2 L937.5 146.7 L931 154.5 L929.7 167.6 L934.9 180.7 L949.3 187.2 L964.9 190.6 L985.8 190.6" fill="none" stroke="#fff0e4" stroke-width="1.1" stroke-linejoin="round" />
<path d="M745.5 236.8 L808.2 237.4 L810.8 238.7 L839.5 240.2 L907.5 240.2 L915.3 243.4 L921.8 243.4 L928.4 240.2 L985.8 240.2" fill="none" stroke="#6a2c12" stroke-width="1.7" stroke-linejoin="round" />
<path d="M745.5 246 L779.4 247.8 L789.9 246.5 L813.4 251.2 L985.8 251.2" fill="none" stroke="#fff" stroke-width="1.2" stroke-linejoin="round" />
<path d="M745.5 64.5H811L813 62.6H826.5Q829.4 62.6 829.4 65.5V74.5L828.4 100L826.5 117L823.6 124.3L807.5 126.4H745.5" fill="none" stroke="#000" stroke-width="1.7"/>
<path d="M829.8 74.2H876" stroke="#000" stroke-width="1.5" fill="none"/>
<path d="M838 74.2H866" stroke="#ff00e0" stroke-width="1.6" fill="none"/>
<path d="M943 74.2H963" stroke="#000" stroke-width="1.6" fill="none"/>
<path d="M962.5 74.6H986.3" stroke="#ff00e0" stroke-width="1.5" fill="none"/>
<path d="M886.2 42.0 l-2.3 0.7 l-2.7 4.3 l-0.2 7 l-3.8 2.7 l-3.5 3.3 V73.7 H886.2 Z" fill="#d2ea00" stroke="#000" stroke-width="1.1" stroke-linejoin="round"/>
<path d="M882.6 50.0 V72.2 H885.7 V50.0 Z" fill="#9cb400" stroke="none"/>
<path d="M882.4 57.0 V69.2 L877.2 72.2" fill="none" stroke="#3c4800" stroke-width="1"/>
<path d="M944.0 42.0 l2.3 0.7 l2.7 4.3 l0.6 6.5 l4.6 4 l4.3 6 V73.7 H944.0 Z" fill="#ffb400" stroke="#000" stroke-width="1.1" stroke-linejoin="round"/>
<path d="M944.6 43.0 l1.8 0.9 l2.2 3.8 l0.5 6 l1 1 V66.0 H944.6 Z" fill="#e6e800" stroke="none"/>
<path d="M948.6 55.0 V70.0 H954.5 V65.2" fill="none" stroke="#3a2800" stroke-width="1.1"/>
<path d="M873.2 73.8 H886.2 M944.0 73.8 H958.5" stroke="#000" stroke-width="1.5"/>
<rect x="886.2" y="42.0" width="57.8" height="31.2" fill="#90ff00" stroke="#000" stroke-width="1.3"/>
<path d="M887.0 43.2 H943.2" stroke="#e800d0" stroke-width="1.3"/>
<path d="M888.8 36.1 H933.2" stroke="#000" stroke-width="1.4"/><path d="M883.3 36.1 l6.5 -2.9 v5.8 Z M938.7 36.1 l-6.5 -2.9 v5.8 Z" fill="#000"/>
<path d="M889.3 88.4 H903.4" stroke="#f00000" stroke-width="1.4"/><path d="M884.3 88.4 l6.0 -2.9 v5.8 Z M908.4 88.4 l-6.0 -2.9 v5.8 Z" fill="#f00000"/>
<path d="M914.5 88.4 H933.5" stroke="#0000f0" stroke-width="1.4"/><path d="M909.5 88.4 l6.0 -2.9 v5.8 Z M938.5 88.4 l-6.0 -2.9 v5.8 Z" fill="#0000f0"/>
<text x="902.5" y="28.2" class="ab" font-size="16" fill="#000">L<tspan font-size="11.3" dy="3.6">G</tspan></text>
<text x="866.5" y="108.6" class="ab" font-size="16" fill="#f00000">L<tspan font-size="11.3" dy="4.3">Geff</tspan></text>
<text x="918.5" y="108.6" class="ab" font-size="16" fill="#0000f0">Wj<tspan font-size="11.3" dy="4.3">B'D</tspan></text>
<text x="199.4" y="307.7" class="sr" font-size="25.7" text-anchor="middle">2.2 μm pitch</text>
<text x="565.3" y="307.9" class="sr" font-size="25.7" text-anchor="middle">1.7 μm pitch</text>
<text x="890.3" y="303.8" class="sr" font-size="25.7" text-anchor="middle">1.4 μm pitch</text>
<text x="549.5" y="343" class="sb" font-size="25" text-anchor="middle">(b)</text>
<rect x="318.5" y="394.3" width="470.3" height="51" fill="#fff" stroke="#c4c4c4" stroke-width="1"/>
<line x1="327.5" y1="421.8" x2="383" y2="421.8" stroke="#000" stroke-width="2.6"/>
<path d="M355.4 415.7 L360.7 421.8 L355.4 427.9 L350.1 421.8 Z" fill="#fff" stroke="#000" stroke-width="1.2"/>
<text transform="translate(391.7 432.8) scale(0.910 1)" class="sb" font-size="35.3" textLength="236.3" lengthAdjust="spacing">Measurements</text>
<line x1="622.5" y1="421.8" x2="640" y2="421.8" stroke="#f00" stroke-width="2.6"/>
<line x1="654" y1="421.8" x2="668.5" y2="421.8" stroke="#f00" stroke-width="2.6"/>
<rect x="642.8" y="416" width="11.2" height="11.6" fill="#fff" stroke="#f00" stroke-width="1.3"/>
<text transform="translate(685.8 432.8) scale(0.910 1)" class="sb" font-size="35.3" textLength="102.5" lengthAdjust="spacing">Model</text>
<path d="M237.5 492.9 H932.1 V848.0" fill="none" stroke="#dcdcdc" stroke-width="1"/>
<path d="M239.5 797.3 H932.1 M239.5 746.5 H932.1 M239.5 695.8 H932.1 M239.5 645.1 H932.1 M239.5 594.3 H932.1 M239.5 543.6 H932.1 M353.3 493.9 V848.0 M469.0 493.9 V848.0 M584.8 493.9 V848.0 M700.5 493.9 V848.0 M816.3 493.9 V848.0" fill="none" stroke="#cfcfcf" stroke-width="1" stroke-dasharray="5.5 4"/>
<path d="M237.5 491.9 V856.5 M228.5 848.0 H933.1 M228.5 797.3 H237.5 M228.5 746.5 H237.5 M228.5 695.8 H237.5 M228.5 645.1 H237.5 M228.5 594.3 H237.5 M228.5 543.6 H237.5 M228.5 492.9 H237.5 M353.3 848.0 V856.5 M469.0 848.0 V856.5 M584.8 848.0 V856.5 M700.5 848.0 V856.5 M816.3 848.0 V856.5 M932.1 848.0 V856.5" fill="none" stroke="#000" stroke-width="2.6"/>
<text transform="translate(217.2 858.2) scale(0.877 1)" class="sb" font-size="27.3" text-anchor="end" letter-spacing="0.5">0</text>
<text transform="translate(217.2 807.5) scale(0.877 1)" class="sb" font-size="27.3" text-anchor="end" letter-spacing="0.5">10</text>
<text transform="translate(217.2 756.7) scale(0.877 1)" class="sb" font-size="27.3" text-anchor="end" letter-spacing="0.5">20</text>
<text transform="translate(217.2 706.0) scale(0.877 1)" class="sb" font-size="27.3" text-anchor="end" letter-spacing="0.5">30</text>
<text transform="translate(217.2 655.3) scale(0.877 1)" class="sb" font-size="27.3" text-anchor="end" letter-spacing="0.5">40</text>
<text transform="translate(217.2 604.5) scale(0.877 1)" class="sb" font-size="27.3" text-anchor="end" letter-spacing="0.5">50</text>
<text transform="translate(217.2 553.8) scale(0.877 1)" class="sb" font-size="27.3" text-anchor="end" letter-spacing="0.5">60</text>
<text transform="translate(217.2 503.1) scale(0.877 1)" class="sb" font-size="27.3" text-anchor="end" letter-spacing="0.5">70</text>
<text transform="translate(237.8 894.8) scale(0.870 1)" class="sb" font-size="25.5" text-anchor="middle" letter-spacing="0.5">0</text>
<text transform="translate(353.6 894.8) scale(0.870 1)" class="sb" font-size="25.5" text-anchor="middle" letter-spacing="0.5">0.2</text>
<text transform="translate(469.3 894.8) scale(0.870 1)" class="sb" font-size="25.5" text-anchor="middle" letter-spacing="0.5">0.4</text>
<text transform="translate(585.1 894.8) scale(0.870 1)" class="sb" font-size="25.5" text-anchor="middle" letter-spacing="0.5">0.6</text>
<text transform="translate(700.8 894.8) scale(0.870 1)" class="sb" font-size="25.5" text-anchor="middle" letter-spacing="0.5">0.8</text>
<text transform="translate(816.6 894.8) scale(0.870 1)" class="sb" font-size="25.5" text-anchor="middle" letter-spacing="0.5">1</text>
<text transform="translate(932.4 894.8) scale(0.870 1)" class="sb" font-size="25.5" text-anchor="middle" letter-spacing="0.5">1.2</text>
<text transform="translate(172.8 858.0) rotate(-90) scale(0.890 1)" class="sb" font-size="26" textLength="400.0" lengthAdjust="spacing">Conversion Gain CG (μV/hole)</text>
<text transform="translate(383.3 932.7) scale(0.890 1)" class="sb" font-size="26" textLength="375.3" lengthAdjust="spacing">Effective Gate Area A<tspan font-size="17.5" dy="3">G</tspan><tspan dy="-3"> (μm²)</tspan></text>
<text x="549" y="986.5" class="sb" font-size="25" text-anchor="middle">(c)</text>
<path d="M331.3 498.0 V624.8 M326.3 498.0 h10 M326.3 624.8 h10 M423.6 512.2 V609.6 M418.6 512.2 h10 M418.6 609.6 h10 M900.9 653.2 V675.0 M895.9 653.2 h10 M895.9 675.0 h10" fill="none" stroke="#000" stroke-width="2.4"/>
<polyline points="331.3,557.8 423.6,582.7 900.9,666.9" fill="none" stroke="#000" stroke-width="2.9"/>
<polyline points="331.3,557.8 423.0,564.9 900.9,694.3" fill="none" stroke="#f00" stroke-width="3" stroke-dasharray="19 9"/>
<path d="M331.3 551.4 l6.3 6.4 l-6.3 6.4 l-6.3 -6.4 Z" fill="none" stroke="#000" stroke-width="1.2"/>
<path d="M423.6 576.3 l6.3 6.4 l-6.3 6.4 l-6.3 -6.4 Z" fill="none" stroke="#000" stroke-width="1.2"/>
<path d="M900.9 660.5 l6.3 6.4 l-6.3 6.4 l-6.3 -6.4 Z" fill="none" stroke="#000" stroke-width="1.2"/>
<rect x="325.8" y="552.3" width="11" height="11" fill="#fff" fill-opacity="0.0" stroke="#f00" stroke-width="1.3"/>
<rect x="417.5" y="559.4" width="11" height="11" fill="#fff" fill-opacity="0.0" stroke="#f00" stroke-width="1.3"/>
<rect x="895.4" y="688.8" width="11" height="11" fill="#fff" fill-opacity="0.0" stroke="#f00" stroke-width="1.3"/>
<g fill="none" stroke="#0000f0" stroke-width="2.9">
<ellipse cx="332" cy="563.7" rx="21.7" ry="92.5"/>
<ellipse cx="423" cy="562.6" rx="17.6" ry="77"/>
<ellipse cx="901.3" cy="674.5" rx="16" ry="46.2"/>
<rect x="551" y="719.5" width="233.3" height="34.5" fill="#fff"/>
<rect x="551" y="764.5" width="233.3" height="34" fill="#fff"/>
<rect x="552.3" y="806.5" width="233.3" height="34.5" fill="#fff"/>
<path d="M551 826 L336 663 M551 783 L426.5 649 M784.5 733 L888 717.8"/>
</g>
<g fill="#0000f0">
<path d="M331.8 660.3 L343.5 663.6 L337.8 671.2 Z"/>
<path d="M423 645.3 L433.5 650.8 L426.8 657.5 Z"/>
<path d="M893.5 717 L881.5 713.3 L883 724 Z"/>
</g>
<text x="570.5" y="741.2" class="sb" font-size="19.5" textLength="194" lengthAdjust="spacing">Pixel size = 2.2x2.2μm²</text>
<text x="570.5" y="785.7" class="sb" font-size="19.5" textLength="194" lengthAdjust="spacing">Pixel size = 1.7x1.7μm²</text>
<text x="572.0" y="828.3" class="sb" font-size="19.5" textLength="194" lengthAdjust="spacing">Pixel size = 1.4x1.4μm²</text>
</svg>
</body></html>
